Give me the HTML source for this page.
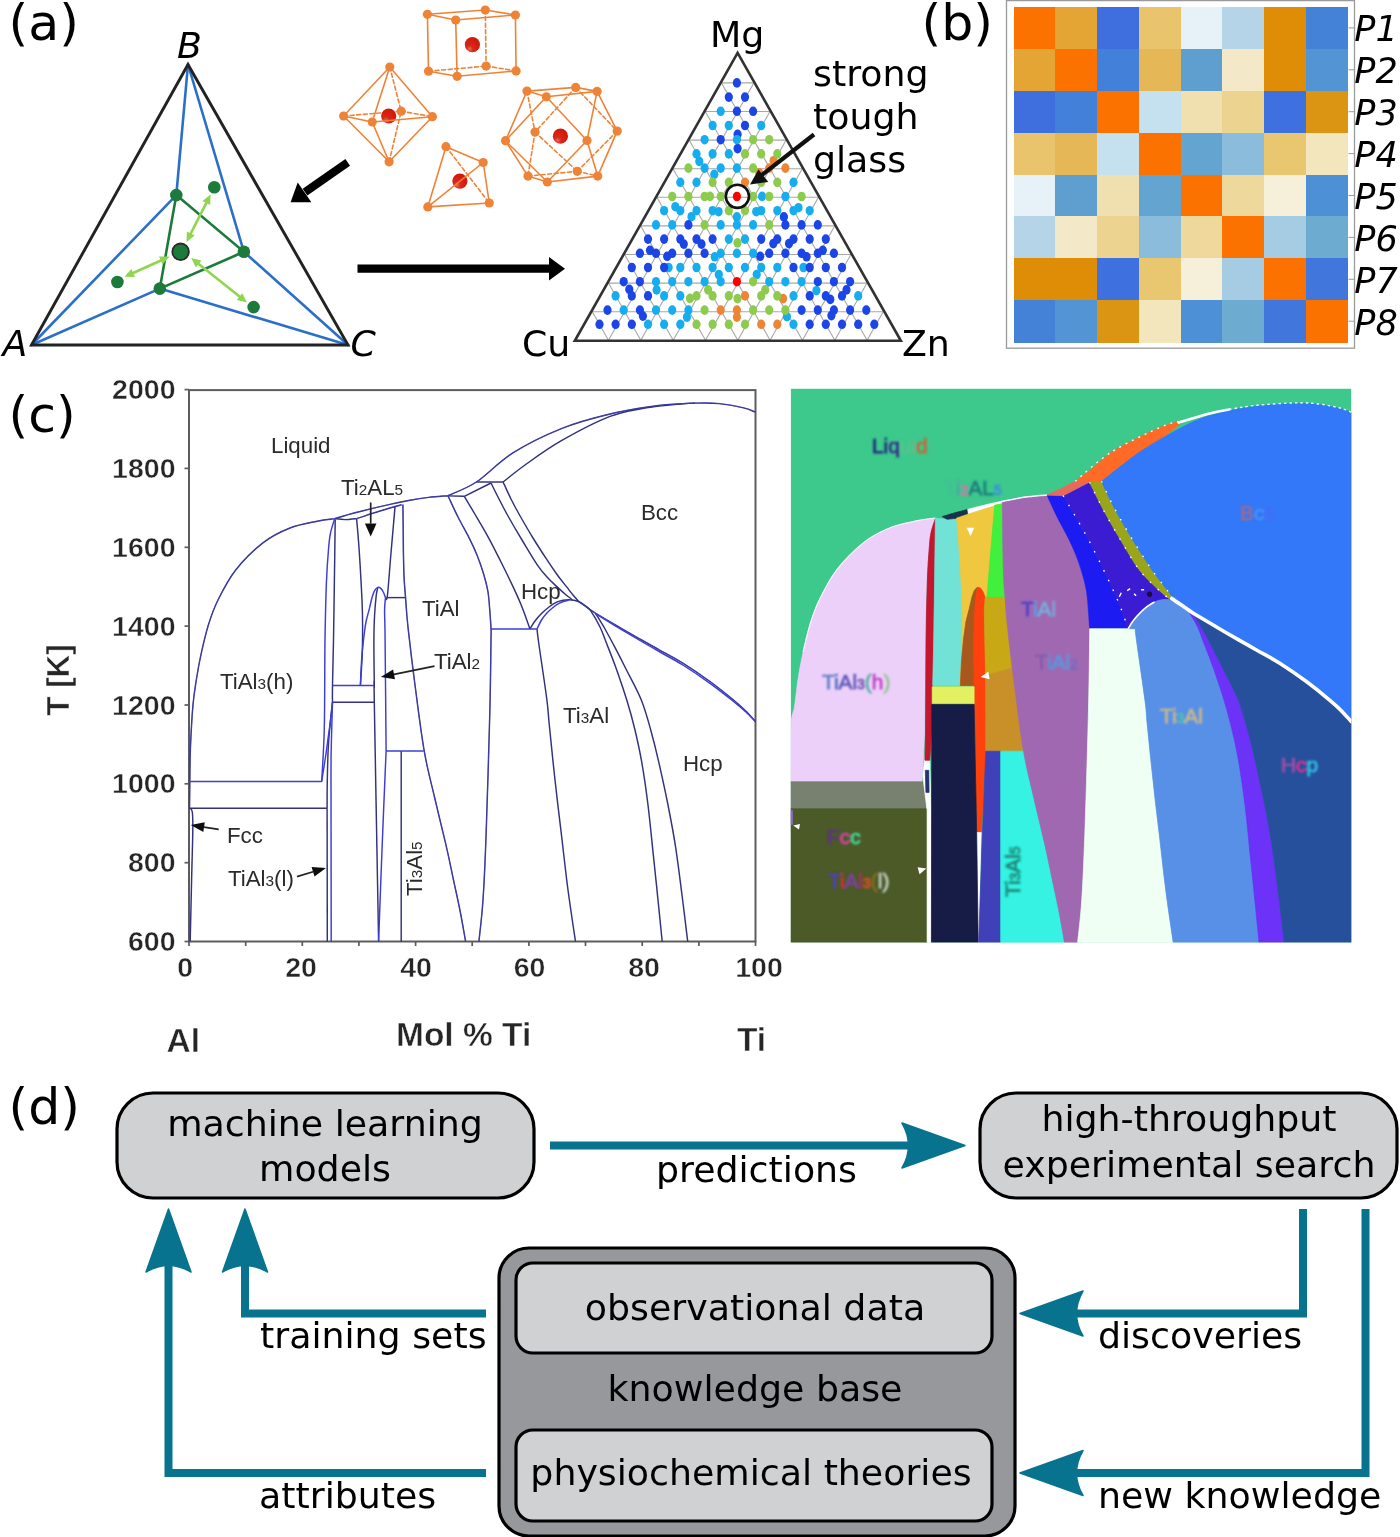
<!DOCTYPE html>
<html><head><meta charset="utf-8"><title>Figure</title>
<style>
html,body{margin:0;padding:0;background:#fff;}
svg{display:block;}
.dj{font-family:"DejaVu Sans","Liberation Sans",sans-serif;}
.lib{font-family:"Liberation Sans","DejaVu Sans",sans-serif;}
</style></head><body>
<svg width="1400" height="1537" viewBox="0 0 1400 1537">
<defs><filter id="blurc" x="-5%" y="-5%" width="110%" height="110%"><feGaussianBlur stdDeviation="0.55"/></filter><filter id="blura" x="-5%" y="-5%" width="110%" height="110%"><feGaussianBlur stdDeviation="0.5"/></filter><filter id="blurt" x="-5%" y="-5%" width="110%" height="110%"><feGaussianBlur stdDeviation="0.8"/></filter><clipPath id="clipc2"><rect x="790.7" y="388.6" width="560.7" height="553.8"/></clipPath><radialGradient id="redg" cx="0.32" cy="0.78" r="0.75"><stop offset="0" stop-color="#e8685a"/><stop offset="0.3" stop-color="#d9281a"/><stop offset="1" stop-color="#d0190a"/></radialGradient></defs>
<rect width="1400" height="1537" fill="#fff"/>
<!-- p_labels -->
<text class="dj" x="8.5" y="39.5" font-size="50.5" fill="#000">(a)</text>
<text class="dj" x="921.5" y="39.5" font-size="50.5" fill="#000">(b)</text>
<text class="dj" x="8.5" y="431.5" font-size="50.5" fill="#000">(c)</text>
<text class="dj" x="8.5" y="1123.5" font-size="50.5" fill="#000">(d)</text>

<!-- p_a -->
<g filter="url(#blura)">
<g fill="none" stroke-linecap="round" stroke-linejoin="miter">
<g stroke="#2b6fc8" stroke-width="2.6"><line x1="188" y1="64.5" x2="176.3" y2="195.1"/><line x1="188" y1="64.5" x2="243.9" y2="251.8"/><line x1="31.5" y1="345" x2="176.3" y2="195.1"/><line x1="31.5" y1="345" x2="159.8" y2="288.6"/><line x1="348" y1="345" x2="243.9" y2="251.8"/><line x1="348" y1="345" x2="159.8" y2="288.6"/></g>
<polygon points="31.5,345 188,64.5 348,345" stroke="#222" stroke-width="2.9"/>
<polygon points="176.3,195.1 243.9,251.8 159.8,288.6" stroke="#1c7a3a" stroke-width="2.6"/>
</g>
<line x1="188.3" y1="238.4" x2="208.8" y2="198.1" stroke="#8fd550" stroke-width="2.6"/><polygon points="186.5,242.0 194.7,235.5 186.9,231.5" fill="#8fd550"/><polygon points="210.6,194.5 210.2,205.0 202.4,201.0" fill="#8fd550"/>
<line x1="165.9" y1="258.2" x2="128.1" y2="275.2" stroke="#8fd550" stroke-width="2.6"/><polygon points="169.5,256.6 159.0,256.5 162.6,264.5" fill="#8fd550"/><polygon points="124.5,276.8 131.4,268.9 135.0,276.9" fill="#8fd550"/>
<line x1="194.3" y1="260.5" x2="243.9" y2="300.1" stroke="#8fd550" stroke-width="2.6"/><polygon points="191.2,258.0 195.9,267.4 201.4,260.5" fill="#8fd550"/><polygon points="247.0,302.6 236.8,300.1 242.3,293.2" fill="#8fd550"/>
<circle cx="176.3" cy="195.1" r="6.3" fill="#1c7a3a"/><circle cx="243.9" cy="251.8" r="6.3" fill="#1c7a3a"/><circle cx="159.8" cy="288.6" r="6.3" fill="#1c7a3a"/><circle cx="214.3" cy="187.2" r="6.3" fill="#1c7a3a"/><circle cx="117.4" cy="282" r="6.3" fill="#1c7a3a"/><circle cx="253.6" cy="307.1" r="6.3" fill="#1c7a3a"/><circle cx="180.6" cy="251.8" r="8.3" fill="#1c7a3a" stroke="#2a2a2a" stroke-width="1.8"/>
</g>
<g class="dj" font-size="36.3" font-style="italic" fill="#000"><text x="177" y="58">B</text><text x="2.5" y="356">A</text><text x="350.5" y="356">C</text></g>
<line x1="347.7" y1="162.4" x2="305" y2="192.2" stroke="#000" stroke-width="8.2"/><polygon points="290.6,202.2 297.7,182.6 311.4,202.3" fill="#000"/>
<line x1="357.5" y1="268.7" x2="551" y2="268.7" stroke="#000" stroke-width="8.2"/><polygon points="565,268.7 549,257 549,280.4" fill="#000"/>
<g filter="url(#blura)">
<g stroke="#ee8338" stroke-width="1.6" fill="none" stroke-linecap="round"><line x1="485.3" y1="10.0" x2="486.1" y2="66.1" stroke-dasharray="4 2.6"/><line x1="428.5" y1="71.2" x2="486.1" y2="66.1" stroke-dasharray="4 2.6"/><line x1="486.1" y1="66.1" x2="516.1" y2="70.9" stroke-dasharray="4 2.6"/></g><circle cx="472.4" cy="44.7" r="7.6" fill="url(#redg)"/><g stroke="#ee8338" stroke-width="1.6" fill="none" stroke-linecap="round"><line x1="427.4" y1="14.3" x2="485.3" y2="10.0"/><line x1="485.3" y1="10.0" x2="515.4" y2="15.0"/><line x1="515.4" y1="15.0" x2="455.7" y2="20.0"/><line x1="455.7" y1="20.0" x2="427.4" y2="14.3"/><line x1="427.4" y1="14.3" x2="428.5" y2="71.2"/><line x1="455.7" y1="20.0" x2="457.1" y2="76.3"/><line x1="515.4" y1="15.0" x2="516.1" y2="70.9"/><line x1="428.5" y1="71.2" x2="457.1" y2="76.3"/><line x1="457.1" y1="76.3" x2="516.1" y2="70.9"/></g><g fill="#ee8338"><circle cx="427.4" cy="14.3" r="4.6"/><circle cx="485.3" cy="10.0" r="4.6"/><circle cx="515.4" cy="15.0" r="4.6"/><circle cx="455.7" cy="20.0" r="4.6"/><circle cx="428.5" cy="71.2" r="4.6"/><circle cx="486.1" cy="66.1" r="4.6"/><circle cx="516.1" cy="70.9" r="4.6"/><circle cx="457.1" cy="76.3" r="4.6"/></g>
<g stroke="#ee8338" stroke-width="1.6" fill="none" stroke-linecap="round"><line x1="389.8" y1="67.0" x2="401.2" y2="111.2" stroke-dasharray="4 2.6"/><line x1="389.1" y1="161.8" x2="401.2" y2="111.2" stroke-dasharray="4 2.6"/><line x1="343.6" y1="116.0" x2="401.2" y2="111.2" stroke-dasharray="4 2.6"/><line x1="401.2" y1="111.2" x2="432.4" y2="116.7" stroke-dasharray="4 2.6"/></g><circle cx="388.7" cy="116.0" r="7.6" fill="url(#redg)"/><g stroke="#ee8338" stroke-width="1.6" fill="none" stroke-linecap="round"><line x1="389.8" y1="67.0" x2="343.6" y2="116.0"/><line x1="389.8" y1="67.0" x2="432.4" y2="116.7"/><line x1="389.8" y1="67.0" x2="372.2" y2="122.0"/><line x1="389.1" y1="161.8" x2="343.6" y2="116.0"/><line x1="389.1" y1="161.8" x2="432.4" y2="116.7"/><line x1="389.1" y1="161.8" x2="372.2" y2="122.0"/><line x1="343.6" y1="116.0" x2="372.2" y2="122.0"/><line x1="372.2" y1="122.0" x2="432.4" y2="116.7"/></g><g fill="#ee8338"><circle cx="389.8" cy="67.0" r="4.6"/><circle cx="389.1" cy="161.8" r="4.6"/><circle cx="343.6" cy="116.0" r="4.6"/><circle cx="432.4" cy="116.7" r="4.6"/><circle cx="372.2" cy="122.0" r="4.6"/><circle cx="401.2" cy="111.2" r="4.6"/></g>
<g stroke="#ee8338" stroke-width="1.6" fill="none" stroke-linecap="round"><line x1="446.0" y1="146.7" x2="489.3" y2="203.0" stroke-dasharray="4 2.6"/></g><circle cx="459.9" cy="181.1" r="7.6" fill="url(#redg)"/><g stroke="#ee8338" stroke-width="1.6" fill="none" stroke-linecap="round"><line x1="446.0" y1="146.7" x2="427.8" y2="206.9"/><line x1="446.0" y1="146.7" x2="483.2" y2="162.5"/><line x1="483.2" y1="162.5" x2="489.3" y2="203.0"/><line x1="427.8" y1="206.9" x2="489.3" y2="203.0"/><line x1="427.8" y1="206.9" x2="483.2" y2="162.5"/></g><g fill="#ee8338"><circle cx="446.0" cy="146.7" r="4.6"/><circle cx="483.2" cy="162.5" r="4.6"/><circle cx="427.8" cy="206.9" r="4.6"/><circle cx="489.3" cy="203.0" r="4.6"/></g>
<g stroke="#ee8338" stroke-width="1.6" fill="none" stroke-linecap="round"><line x1="527.0" y1="91.1" x2="535.0" y2="132.1" stroke-dasharray="4 2.6"/><line x1="575.7" y1="87.4" x2="535.0" y2="132.1" stroke-dasharray="4 2.6"/><line x1="535.0" y1="132.1" x2="528.0" y2="176.1" stroke-dasharray="4 2.6"/><line x1="535.0" y1="132.1" x2="577.3" y2="171.3" stroke-dasharray="4 2.6"/><line x1="575.7" y1="87.4" x2="617.2" y2="131.1" stroke-dasharray="4 2.6"/><line x1="617.2" y1="131.1" x2="577.3" y2="171.3" stroke-dasharray="4 2.6"/><line x1="528.0" y1="176.1" x2="577.3" y2="171.3" stroke-dasharray="4 2.6"/><line x1="577.3" y1="171.3" x2="597.7" y2="176.1" stroke-dasharray="4 2.6"/></g><circle cx="560.4" cy="136.2" r="7.6" fill="url(#redg)"/><g stroke="#ee8338" stroke-width="1.6" fill="none" stroke-linecap="round"><line x1="527.0" y1="91.1" x2="575.7" y2="87.4"/><line x1="575.7" y1="87.4" x2="597.1" y2="91.4"/><line x1="597.1" y1="91.4" x2="546.3" y2="96.8"/><line x1="546.3" y1="96.8" x2="527.0" y2="91.1"/><line x1="527.0" y1="91.1" x2="505.5" y2="140.7"/><line x1="546.3" y1="96.8" x2="505.5" y2="140.7"/><line x1="505.5" y1="140.7" x2="528.0" y2="176.1"/><line x1="505.5" y1="140.7" x2="547.3" y2="182.0"/><line x1="546.3" y1="96.8" x2="587.0" y2="140.5"/><line x1="597.1" y1="91.4" x2="587.0" y2="140.5"/><line x1="587.0" y1="140.5" x2="547.3" y2="182.0"/><line x1="587.0" y1="140.5" x2="597.7" y2="176.1"/><line x1="597.1" y1="91.4" x2="617.2" y2="131.1"/><line x1="617.2" y1="131.1" x2="597.7" y2="176.1"/><line x1="528.0" y1="176.1" x2="547.3" y2="182.0"/><line x1="547.3" y1="182.0" x2="597.7" y2="176.1"/></g><g fill="#ee8338"><circle cx="527.0" cy="91.1" r="4.6"/><circle cx="546.3" cy="96.8" r="4.6"/><circle cx="575.7" cy="87.4" r="4.6"/><circle cx="597.1" cy="91.4" r="4.6"/><circle cx="505.5" cy="140.7" r="4.6"/><circle cx="617.2" cy="131.1" r="4.6"/><circle cx="535.0" cy="132.1" r="4.6"/><circle cx="587.0" cy="140.5" r="4.6"/><circle cx="528.0" cy="176.1" r="4.6"/><circle cx="547.3" cy="182.0" r="4.6"/><circle cx="577.3" cy="171.3" r="4.6"/><circle cx="597.7" cy="176.1" r="4.6"/></g>
</g>

<!-- p_tern -->
<g filter="url(#blura)">
<g stroke="#a8a8a8" stroke-width="1.1" fill="none">
<line x1="592.3" y1="311.7" x2="883.2" y2="311.7"/><line x1="721.5" y1="82.9" x2="867.1" y2="340.3"/><line x1="753.8" y1="82.9" x2="608.5" y2="340.3"/><line x1="608.5" y1="283.1" x2="867.0" y2="283.1"/><line x1="705.3" y1="111.5" x2="834.8" y2="340.3"/><line x1="770.0" y1="111.5" x2="640.8" y2="340.3"/><line x1="624.6" y1="254.5" x2="850.9" y2="254.5"/><line x1="689.2" y1="140.1" x2="802.4" y2="340.3"/><line x1="786.1" y1="140.1" x2="673.2" y2="340.3"/><line x1="640.8" y1="225.9" x2="834.7" y2="225.9"/><line x1="673.0" y1="168.7" x2="770.1" y2="340.3"/><line x1="802.3" y1="168.7" x2="705.5" y2="340.3"/><line x1="656.9" y1="197.3" x2="818.5" y2="197.3"/><line x1="656.9" y1="197.3" x2="737.8" y2="340.3"/><line x1="818.5" y1="197.3" x2="737.8" y2="340.3"/><line x1="673.0" y1="168.7" x2="802.3" y2="168.7"/><line x1="640.8" y1="225.9" x2="705.5" y2="340.3"/><line x1="834.7" y1="225.9" x2="770.1" y2="340.3"/><line x1="689.2" y1="140.1" x2="786.1" y2="140.1"/><line x1="624.6" y1="254.5" x2="673.2" y2="340.3"/><line x1="850.9" y1="254.5" x2="802.4" y2="340.3"/><line x1="705.3" y1="111.5" x2="770.0" y2="111.5"/><line x1="608.5" y1="283.1" x2="640.8" y2="340.3"/><line x1="867.0" y1="283.1" x2="834.8" y2="340.3"/><line x1="721.5" y1="82.9" x2="753.8" y2="82.9"/><line x1="592.3" y1="311.7" x2="608.5" y2="340.3"/><line x1="883.2" y1="311.7" x2="867.1" y2="340.3"/></g>
<ellipse cx="675.3" cy="206.7" rx="4.1" ry="4.8" fill="#17adee"/><ellipse cx="691.5" cy="216.7" rx="4.1" ry="4.8" fill="#17adee"/><ellipse cx="718.6" cy="211.7" rx="4.1" ry="4.8" fill="#17adee"/><ellipse cx="756.2" cy="211.7" rx="4.1" ry="4.8" fill="#17adee"/><ellipse cx="798.5" cy="207.7" rx="4.1" ry="4.8" fill="#17adee"/><ellipse cx="736.9" cy="216.9" rx="4.1" ry="4.8" fill="#17adee"/><ellipse cx="783.9" cy="216.9" rx="4.1" ry="4.8" fill="#1a44e6"/><ellipse cx="683.8" cy="244.1" rx="4.1" ry="4.8" fill="#1a44e6"/><ellipse cx="701.5" cy="244.1" rx="4.1" ry="4.8" fill="#1a44e6"/><ellipse cx="773.3" cy="243.6" rx="4.1" ry="4.8" fill="#1a44e6"/><ellipse cx="789.0" cy="243.6" rx="4.1" ry="4.8" fill="#1a44e6"/><ellipse cx="737.5" cy="242.9" rx="4.1" ry="4.8" fill="#8ccb4e"/><ellipse cx="650.0" cy="250.3" rx="4.1" ry="4.8" fill="#1a44e6"/><ellipse cx="667.2" cy="256.3" rx="4.1" ry="4.8" fill="#1a44e6"/><ellipse cx="714.7" cy="256.8" rx="4.1" ry="4.8" fill="#17adee"/><ellipse cx="760.2" cy="256.3" rx="4.1" ry="4.8" fill="#1a44e6"/><ellipse cx="806.6" cy="256.8" rx="4.1" ry="4.8" fill="#1a44e6"/><ellipse cx="822.8" cy="250.3" rx="4.1" ry="4.8" fill="#1a44e6"/><ellipse cx="668.6" cy="267.5" rx="4.1" ry="4.8" fill="#17adee"/><ellipse cx="718.8" cy="274.5" rx="4.1" ry="4.8" fill="#17adee"/><ellipse cx="756.7" cy="274.5" rx="4.1" ry="4.8" fill="#17adee"/><ellipse cx="803.5" cy="267.5" rx="4.1" ry="4.8" fill="#17adee"/><ellipse cx="629.3" cy="289.4" rx="4.1" ry="4.8" fill="#1a44e6"/><ellipse cx="656.6" cy="289.9" rx="4.1" ry="4.8" fill="#17adee"/><ellipse cx="690.0" cy="298.4" rx="4.1" ry="4.8" fill="#8ccb4e"/><ellipse cx="708.1" cy="289.9" rx="4.1" ry="4.8" fill="#8ccb4e"/><ellipse cx="765.2" cy="289.9" rx="4.1" ry="4.8" fill="#8ccb4e"/><ellipse cx="830.3" cy="299.4" rx="4.1" ry="4.8" fill="#1a44e6"/><ellipse cx="846.5" cy="289.9" rx="4.1" ry="4.8" fill="#1a44e6"/><ellipse cx="737.5" cy="298.6" rx="4.1" ry="4.8" fill="#8ccb4e"/><ellipse cx="783.1" cy="298.6" rx="4.1" ry="4.8" fill="#ee8535"/><ellipse cx="816.4" cy="290.7" rx="4.1" ry="4.8" fill="#17adee"/><ellipse cx="642.9" cy="316.1" rx="4.1" ry="4.8" fill="#1a44e6"/><ellipse cx="686.9" cy="317.1" rx="4.1" ry="4.8" fill="#17adee"/><ellipse cx="736.9" cy="317.1" rx="4.1" ry="4.8" fill="#ee8535"/><ellipse cx="786.9" cy="316.6" rx="4.1" ry="4.8" fill="#17adee"/><ellipse cx="831.4" cy="315.6" rx="4.1" ry="4.8" fill="#1a44e6"/><ellipse cx="737.6" cy="134.3" rx="4.1" ry="4.8" fill="#1a44e6"/><ellipse cx="737.6" cy="148.6" rx="4.1" ry="4.8" fill="#1a44e6"/><ellipse cx="699.3" cy="161.4" rx="4.1" ry="4.8" fill="#17adee"/><ellipse cx="773.6" cy="160.7" rx="4.1" ry="4.8" fill="#ee8535"/><ellipse cx="714.3" cy="174.3" rx="4.1" ry="4.8" fill="#17adee"/><ellipse cx="759.3" cy="172.9" rx="4.1" ry="4.8" fill="#ee8535"/><ellipse cx="710.0" cy="196.4" rx="4.1" ry="4.8" fill="#8ccb4e"/><ellipse cx="762.1" cy="196.4" rx="4.1" ry="4.8" fill="#17adee"/><ellipse cx="736.9" cy="82.9" rx="4.1" ry="4.8" fill="#1a44e6"/><ellipse cx="728.8" cy="97.1" rx="4.1" ry="4.8" fill="#1a44e6"/><ellipse cx="745.0" cy="97.1" rx="4.1" ry="4.8" fill="#1a44e6"/><ellipse cx="720.7" cy="111.3" rx="4.1" ry="4.8" fill="#17adee"/><ellipse cx="736.9" cy="111.3" rx="4.1" ry="4.8" fill="#1a44e6"/><ellipse cx="753.1" cy="111.3" rx="4.1" ry="4.8" fill="#1a44e6"/><ellipse cx="712.6" cy="125.5" rx="4.1" ry="4.8" fill="#17adee"/><ellipse cx="728.8" cy="125.5" rx="4.1" ry="4.8" fill="#17adee"/><ellipse cx="745.0" cy="125.5" rx="4.1" ry="4.8" fill="#1a44e6"/><ellipse cx="761.2" cy="125.5" rx="4.1" ry="4.8" fill="#17adee"/><ellipse cx="704.6" cy="139.7" rx="4.1" ry="4.8" fill="#17adee"/><ellipse cx="720.7" cy="139.7" rx="4.1" ry="4.8" fill="#1a44e6"/><ellipse cx="736.9" cy="139.7" rx="4.1" ry="4.8" fill="#17adee"/><ellipse cx="753.1" cy="139.7" rx="4.1" ry="4.8" fill="#8ccb4e"/><ellipse cx="769.2" cy="139.7" rx="4.1" ry="4.8" fill="#8ccb4e"/><ellipse cx="696.5" cy="153.9" rx="4.1" ry="4.8" fill="#17adee"/><ellipse cx="712.6" cy="153.9" rx="4.1" ry="4.8" fill="#17adee"/><ellipse cx="728.8" cy="153.9" rx="4.1" ry="4.8" fill="#17adee"/><ellipse cx="745.0" cy="153.9" rx="4.1" ry="4.8" fill="#8ccb4e"/><ellipse cx="761.2" cy="153.9" rx="4.1" ry="4.8" fill="#8ccb4e"/><ellipse cx="777.3" cy="153.9" rx="4.1" ry="4.8" fill="#8ccb4e"/><ellipse cx="688.4" cy="168.1" rx="4.1" ry="4.8" fill="#8ccb4e"/><ellipse cx="704.6" cy="168.1" rx="4.1" ry="4.8" fill="#17adee"/><ellipse cx="720.7" cy="168.1" rx="4.1" ry="4.8" fill="#17adee"/><ellipse cx="736.9" cy="168.1" rx="4.1" ry="4.8" fill="#17adee"/><ellipse cx="753.1" cy="168.1" rx="4.1" ry="4.8" fill="#8ccb4e"/><ellipse cx="769.2" cy="168.1" rx="4.1" ry="4.8" fill="#ee8535"/><ellipse cx="785.4" cy="168.1" rx="4.1" ry="4.8" fill="#ee8535"/><ellipse cx="680.3" cy="182.3" rx="4.1" ry="4.8" fill="#17adee"/><ellipse cx="696.5" cy="182.3" rx="4.1" ry="4.8" fill="#17adee"/><ellipse cx="712.6" cy="182.3" rx="4.1" ry="4.8" fill="#8ccb4e"/><ellipse cx="728.8" cy="182.3" rx="4.1" ry="4.8" fill="#8ccb4e"/><ellipse cx="745.0" cy="182.3" rx="4.1" ry="4.8" fill="#ee8535"/><ellipse cx="761.2" cy="182.3" rx="4.1" ry="4.8" fill="#8ccb4e"/><ellipse cx="777.3" cy="182.3" rx="4.1" ry="4.8" fill="#8ccb4e"/><ellipse cx="793.5" cy="182.3" rx="4.1" ry="4.8" fill="#17adee"/><ellipse cx="672.2" cy="196.5" rx="4.1" ry="4.8" fill="#8ccb4e"/><ellipse cx="688.4" cy="196.5" rx="4.1" ry="4.8" fill="#8ccb4e"/><ellipse cx="704.6" cy="196.5" rx="4.1" ry="4.8" fill="#8ccb4e"/><ellipse cx="720.7" cy="196.5" rx="4.1" ry="4.8" fill="#8ccb4e"/><ellipse cx="736.9" cy="196.5" rx="4.1" ry="4.8" fill="#ff0000"/><ellipse cx="753.1" cy="196.5" rx="4.1" ry="4.8" fill="#8ccb4e"/><ellipse cx="769.2" cy="196.5" rx="4.1" ry="4.8" fill="#8ccb4e"/><ellipse cx="785.4" cy="196.5" rx="4.1" ry="4.8" fill="#17adee"/><ellipse cx="801.6" cy="196.5" rx="4.1" ry="4.8" fill="#8ccb4e"/><ellipse cx="664.1" cy="210.7" rx="4.1" ry="4.8" fill="#17adee"/><ellipse cx="680.3" cy="210.7" rx="4.1" ry="4.8" fill="#17adee"/><ellipse cx="696.5" cy="210.7" rx="4.1" ry="4.8" fill="#17adee"/><ellipse cx="712.6" cy="210.7" rx="4.1" ry="4.8" fill="#17adee"/><ellipse cx="728.8" cy="210.7" rx="4.1" ry="4.8" fill="#8ccb4e"/><ellipse cx="745.0" cy="210.7" rx="4.1" ry="4.8" fill="#8ccb4e"/><ellipse cx="761.2" cy="210.7" rx="4.1" ry="4.8" fill="#17adee"/><ellipse cx="777.3" cy="210.7" rx="4.1" ry="4.8" fill="#17adee"/><ellipse cx="793.5" cy="210.7" rx="4.1" ry="4.8" fill="#17adee"/><ellipse cx="809.7" cy="210.7" rx="4.1" ry="4.8" fill="#17adee"/><ellipse cx="656.0" cy="224.9" rx="4.1" ry="4.8" fill="#17adee"/><ellipse cx="672.2" cy="224.9" rx="4.1" ry="4.8" fill="#17adee"/><ellipse cx="688.4" cy="224.9" rx="4.1" ry="4.8" fill="#1a44e6"/><ellipse cx="704.6" cy="224.9" rx="4.1" ry="4.8" fill="#8ccb4e"/><ellipse cx="720.7" cy="224.9" rx="4.1" ry="4.8" fill="#17adee"/><ellipse cx="736.9" cy="224.9" rx="4.1" ry="4.8" fill="#17adee"/><ellipse cx="753.1" cy="224.9" rx="4.1" ry="4.8" fill="#17adee"/><ellipse cx="769.2" cy="224.9" rx="4.1" ry="4.8" fill="#8ccb4e"/><ellipse cx="785.4" cy="224.9" rx="4.1" ry="4.8" fill="#1a44e6"/><ellipse cx="801.6" cy="224.9" rx="4.1" ry="4.8" fill="#1a44e6"/><ellipse cx="817.8" cy="224.9" rx="4.1" ry="4.8" fill="#1a44e6"/><ellipse cx="648.0" cy="239.1" rx="4.1" ry="4.8" fill="#1a44e6"/><ellipse cx="664.1" cy="239.1" rx="4.1" ry="4.8" fill="#1a44e6"/><ellipse cx="680.3" cy="239.1" rx="4.1" ry="4.8" fill="#1a44e6"/><ellipse cx="696.5" cy="239.1" rx="4.1" ry="4.8" fill="#1a44e6"/><ellipse cx="712.6" cy="239.1" rx="4.1" ry="4.8" fill="#1a44e6"/><ellipse cx="728.8" cy="239.1" rx="4.1" ry="4.8" fill="#17adee"/><ellipse cx="745.0" cy="239.1" rx="4.1" ry="4.8" fill="#17adee"/><ellipse cx="761.2" cy="239.1" rx="4.1" ry="4.8" fill="#1a44e6"/><ellipse cx="777.3" cy="239.1" rx="4.1" ry="4.8" fill="#1a44e6"/><ellipse cx="793.5" cy="239.1" rx="4.1" ry="4.8" fill="#1a44e6"/><ellipse cx="809.7" cy="239.1" rx="4.1" ry="4.8" fill="#1a44e6"/><ellipse cx="825.8" cy="239.1" rx="4.1" ry="4.8" fill="#1a44e6"/><ellipse cx="639.9" cy="253.3" rx="4.1" ry="4.8" fill="#1a44e6"/><ellipse cx="656.0" cy="253.3" rx="4.1" ry="4.8" fill="#1a44e6"/><ellipse cx="672.2" cy="253.3" rx="4.1" ry="4.8" fill="#1a44e6"/><ellipse cx="688.4" cy="253.3" rx="4.1" ry="4.8" fill="#1a44e6"/><ellipse cx="704.6" cy="253.3" rx="4.1" ry="4.8" fill="#1a44e6"/><ellipse cx="720.7" cy="253.3" rx="4.1" ry="4.8" fill="#17adee"/><ellipse cx="736.9" cy="253.3" rx="4.1" ry="4.8" fill="#17adee"/><ellipse cx="753.1" cy="253.3" rx="4.1" ry="4.8" fill="#17adee"/><ellipse cx="769.2" cy="253.3" rx="4.1" ry="4.8" fill="#1a44e6"/><ellipse cx="785.4" cy="253.3" rx="4.1" ry="4.8" fill="#1a44e6"/><ellipse cx="801.6" cy="253.3" rx="4.1" ry="4.8" fill="#1a44e6"/><ellipse cx="817.8" cy="253.3" rx="4.1" ry="4.8" fill="#1a44e6"/><ellipse cx="833.9" cy="253.3" rx="4.1" ry="4.8" fill="#1a44e6"/><ellipse cx="631.8" cy="267.5" rx="4.1" ry="4.8" fill="#1a44e6"/><ellipse cx="648.0" cy="267.5" rx="4.1" ry="4.8" fill="#1a44e6"/><ellipse cx="664.1" cy="267.5" rx="4.1" ry="4.8" fill="#1a44e6"/><ellipse cx="680.3" cy="267.5" rx="4.1" ry="4.8" fill="#17adee"/><ellipse cx="696.5" cy="267.5" rx="4.1" ry="4.8" fill="#17adee"/><ellipse cx="712.6" cy="267.5" rx="4.1" ry="4.8" fill="#17adee"/><ellipse cx="728.8" cy="267.5" rx="4.1" ry="4.8" fill="#17adee"/><ellipse cx="745.0" cy="267.5" rx="4.1" ry="4.8" fill="#17adee"/><ellipse cx="761.2" cy="267.5" rx="4.1" ry="4.8" fill="#17adee"/><ellipse cx="777.3" cy="267.5" rx="4.1" ry="4.8" fill="#17adee"/><ellipse cx="793.5" cy="267.5" rx="4.1" ry="4.8" fill="#1a44e6"/><ellipse cx="809.7" cy="267.5" rx="4.1" ry="4.8" fill="#1a44e6"/><ellipse cx="825.8" cy="267.5" rx="4.1" ry="4.8" fill="#1a44e6"/><ellipse cx="842.0" cy="267.5" rx="4.1" ry="4.8" fill="#1a44e6"/><ellipse cx="623.7" cy="281.7" rx="4.1" ry="4.8" fill="#1a44e6"/><ellipse cx="639.9" cy="281.7" rx="4.1" ry="4.8" fill="#1a44e6"/><ellipse cx="656.0" cy="281.7" rx="4.1" ry="4.8" fill="#17adee"/><ellipse cx="672.2" cy="281.7" rx="4.1" ry="4.8" fill="#17adee"/><ellipse cx="688.4" cy="281.7" rx="4.1" ry="4.8" fill="#17adee"/><ellipse cx="704.6" cy="281.7" rx="4.1" ry="4.8" fill="#17adee"/><ellipse cx="720.7" cy="281.7" rx="4.1" ry="4.8" fill="#17adee"/><ellipse cx="736.9" cy="281.7" rx="4.1" ry="4.8" fill="#ff0000"/><ellipse cx="753.1" cy="281.7" rx="4.1" ry="4.8" fill="#8ccb4e"/><ellipse cx="769.2" cy="281.7" rx="4.1" ry="4.8" fill="#17adee"/><ellipse cx="785.4" cy="281.7" rx="4.1" ry="4.8" fill="#17adee"/><ellipse cx="801.6" cy="281.7" rx="4.1" ry="4.8" fill="#17adee"/><ellipse cx="817.8" cy="281.7" rx="4.1" ry="4.8" fill="#1a44e6"/><ellipse cx="833.9" cy="281.7" rx="4.1" ry="4.8" fill="#1a44e6"/><ellipse cx="850.1" cy="281.7" rx="4.1" ry="4.8" fill="#1a44e6"/><ellipse cx="615.6" cy="295.9" rx="4.1" ry="4.8" fill="#17adee"/><ellipse cx="631.8" cy="295.9" rx="4.1" ry="4.8" fill="#1a44e6"/><ellipse cx="648.0" cy="295.9" rx="4.1" ry="4.8" fill="#1a44e6"/><ellipse cx="664.1" cy="295.9" rx="4.1" ry="4.8" fill="#17adee"/><ellipse cx="680.3" cy="295.9" rx="4.1" ry="4.8" fill="#17adee"/><ellipse cx="696.5" cy="295.9" rx="4.1" ry="4.8" fill="#8ccb4e"/><ellipse cx="712.6" cy="295.9" rx="4.1" ry="4.8" fill="#8ccb4e"/><ellipse cx="728.8" cy="295.9" rx="4.1" ry="4.8" fill="#8ccb4e"/><ellipse cx="745.0" cy="295.9" rx="4.1" ry="4.8" fill="#ee8535"/><ellipse cx="761.2" cy="295.9" rx="4.1" ry="4.8" fill="#8ccb4e"/><ellipse cx="777.3" cy="295.9" rx="4.1" ry="4.8" fill="#8ccb4e"/><ellipse cx="793.5" cy="295.9" rx="4.1" ry="4.8" fill="#17adee"/><ellipse cx="809.7" cy="295.9" rx="4.1" ry="4.8" fill="#1a44e6"/><ellipse cx="825.8" cy="295.9" rx="4.1" ry="4.8" fill="#1a44e6"/><ellipse cx="842.0" cy="295.9" rx="4.1" ry="4.8" fill="#1a44e6"/><ellipse cx="858.2" cy="295.9" rx="4.1" ry="4.8" fill="#17adee"/><ellipse cx="607.5" cy="310.1" rx="4.1" ry="4.8" fill="#1a44e6"/><ellipse cx="623.7" cy="310.1" rx="4.1" ry="4.8" fill="#17adee"/><ellipse cx="639.9" cy="310.1" rx="4.1" ry="4.8" fill="#1a44e6"/><ellipse cx="656.0" cy="310.1" rx="4.1" ry="4.8" fill="#17adee"/><ellipse cx="672.2" cy="310.1" rx="4.1" ry="4.8" fill="#17adee"/><ellipse cx="688.4" cy="310.1" rx="4.1" ry="4.8" fill="#17adee"/><ellipse cx="704.6" cy="310.1" rx="4.1" ry="4.8" fill="#8ccb4e"/><ellipse cx="720.7" cy="310.1" rx="4.1" ry="4.8" fill="#ee8535"/><ellipse cx="736.9" cy="310.1" rx="4.1" ry="4.8" fill="#ee8535"/><ellipse cx="753.1" cy="310.1" rx="4.1" ry="4.8" fill="#8ccb4e"/><ellipse cx="769.2" cy="310.1" rx="4.1" ry="4.8" fill="#8ccb4e"/><ellipse cx="785.4" cy="310.1" rx="4.1" ry="4.8" fill="#8ccb4e"/><ellipse cx="801.6" cy="310.1" rx="4.1" ry="4.8" fill="#1a44e6"/><ellipse cx="817.8" cy="310.1" rx="4.1" ry="4.8" fill="#1a44e6"/><ellipse cx="833.9" cy="310.1" rx="4.1" ry="4.8" fill="#1a44e6"/><ellipse cx="850.1" cy="310.1" rx="4.1" ry="4.8" fill="#1a44e6"/><ellipse cx="866.3" cy="310.1" rx="4.1" ry="4.8" fill="#1a44e6"/><ellipse cx="599.5" cy="324.3" rx="4.1" ry="4.8" fill="#1a44e6"/><ellipse cx="615.6" cy="324.3" rx="4.1" ry="4.8" fill="#1a44e6"/><ellipse cx="631.8" cy="324.3" rx="4.1" ry="4.8" fill="#1a44e6"/><ellipse cx="648.0" cy="324.3" rx="4.1" ry="4.8" fill="#17adee"/><ellipse cx="664.1" cy="324.3" rx="4.1" ry="4.8" fill="#17adee"/><ellipse cx="680.3" cy="324.3" rx="4.1" ry="4.8" fill="#17adee"/><ellipse cx="696.5" cy="324.3" rx="4.1" ry="4.8" fill="#8ccb4e"/><ellipse cx="712.6" cy="324.3" rx="4.1" ry="4.8" fill="#8ccb4e"/><ellipse cx="728.8" cy="324.3" rx="4.1" ry="4.8" fill="#8ccb4e"/><ellipse cx="745.0" cy="324.3" rx="4.1" ry="4.8" fill="#8ccb4e"/><ellipse cx="761.2" cy="324.3" rx="4.1" ry="4.8" fill="#ee8535"/><ellipse cx="777.3" cy="324.3" rx="4.1" ry="4.8" fill="#ee8535"/><ellipse cx="793.5" cy="324.3" rx="4.1" ry="4.8" fill="#17adee"/><ellipse cx="809.7" cy="324.3" rx="4.1" ry="4.8" fill="#1a44e6"/><ellipse cx="825.8" cy="324.3" rx="4.1" ry="4.8" fill="#1a44e6"/><ellipse cx="842.0" cy="324.3" rx="4.1" ry="4.8" fill="#1a44e6"/><ellipse cx="858.2" cy="324.3" rx="4.1" ry="4.8" fill="#1a44e6"/><ellipse cx="874.3" cy="324.3" rx="4.1" ry="4.8" fill="#1a44e6"/>
<polygon points="737.6,52.9 574.8,340.8 900.9,340.8" fill="none" stroke="#333" stroke-width="2.6" stroke-linejoin="miter"/>
</g>
<circle cx="737.4" cy="196.3" r="11.6" fill="none" stroke="#111" stroke-width="2.6"/>
<line x1="814" y1="134.5" x2="760" y2="176.5" stroke="#111" stroke-width="4.2"/><polygon points="750,184.5 758.5,169.5 768.3,182" fill="#111"/>
<g class="dj" font-size="36.3" fill="#000"><text x="710" y="46.5">Mg</text><text x="522" y="356">Cu</text><text x="902" y="356">Zn</text><text x="813" y="85.5">strong</text><text x="813" y="128.5">tough</text><text x="813" y="171.5">glass</text></g>

<!-- p_b -->
<rect x="1006.5" y="0.6" width="348" height="347.6" fill="#fff" stroke="#9a9a9a" stroke-width="1.3"/>
<g shape-rendering="crispEdges">
<rect x="1013.70" y="6.90" width="42.22" height="42.41" fill="#fb7201"/>
<rect x="1055.42" y="6.90" width="42.22" height="42.41" fill="#e4a535"/>
<rect x="1097.15" y="6.90" width="42.22" height="42.41" fill="#3f6fdf"/>
<rect x="1138.88" y="6.90" width="42.22" height="42.41" fill="#e9c46d"/>
<rect x="1180.60" y="6.90" width="42.22" height="42.41" fill="#e6f1f8"/>
<rect x="1222.33" y="6.90" width="42.22" height="42.41" fill="#b5d4e8"/>
<rect x="1264.05" y="6.90" width="42.22" height="42.41" fill="#df8c07"/>
<rect x="1305.78" y="6.90" width="42.22" height="42.41" fill="#4482d8"/>
<rect x="1013.70" y="48.81" width="42.22" height="42.41" fill="#e4a535"/>
<rect x="1055.42" y="48.81" width="42.22" height="42.41" fill="#fb7201"/>
<rect x="1097.15" y="48.81" width="42.22" height="42.41" fill="#4280d9"/>
<rect x="1138.88" y="48.81" width="42.22" height="42.41" fill="#e6b757"/>
<rect x="1180.60" y="48.81" width="42.22" height="42.41" fill="#5e9fd0"/>
<rect x="1222.33" y="48.81" width="42.22" height="42.41" fill="#f3e9c8"/>
<rect x="1264.05" y="48.81" width="42.22" height="42.41" fill="#df8c07"/>
<rect x="1305.78" y="48.81" width="42.22" height="42.41" fill="#5294d4"/>
<rect x="1013.70" y="90.73" width="42.22" height="42.41" fill="#3f6fdf"/>
<rect x="1055.42" y="90.73" width="42.22" height="42.41" fill="#4280d9"/>
<rect x="1097.15" y="90.73" width="42.22" height="42.41" fill="#fb7201"/>
<rect x="1138.88" y="90.73" width="42.22" height="42.41" fill="#c5e0ee"/>
<rect x="1180.60" y="90.73" width="42.22" height="42.41" fill="#f0e0b0"/>
<rect x="1222.33" y="90.73" width="42.22" height="42.41" fill="#ecd38f"/>
<rect x="1264.05" y="90.73" width="42.22" height="42.41" fill="#3f70df"/>
<rect x="1305.78" y="90.73" width="42.22" height="42.41" fill="#dc9513"/>
<rect x="1013.70" y="132.64" width="42.22" height="42.41" fill="#e9c46d"/>
<rect x="1055.42" y="132.64" width="42.22" height="42.41" fill="#e6b757"/>
<rect x="1097.15" y="132.64" width="42.22" height="42.41" fill="#c5e0ee"/>
<rect x="1138.88" y="132.64" width="42.22" height="42.41" fill="#fb7201"/>
<rect x="1180.60" y="132.64" width="42.22" height="42.41" fill="#63a4d0"/>
<rect x="1222.33" y="132.64" width="42.22" height="42.41" fill="#8bbcdc"/>
<rect x="1264.05" y="132.64" width="42.22" height="42.41" fill="#e9c670"/>
<rect x="1305.78" y="132.64" width="42.22" height="42.41" fill="#f3e5bc"/>
<rect x="1013.70" y="174.55" width="42.22" height="42.41" fill="#e6f1f8"/>
<rect x="1055.42" y="174.55" width="42.22" height="42.41" fill="#5e9fd0"/>
<rect x="1097.15" y="174.55" width="42.22" height="42.41" fill="#f0e0b0"/>
<rect x="1138.88" y="174.55" width="42.22" height="42.41" fill="#63a4d0"/>
<rect x="1180.60" y="174.55" width="42.22" height="42.41" fill="#fb7201"/>
<rect x="1222.33" y="174.55" width="42.22" height="42.41" fill="#efd89c"/>
<rect x="1264.05" y="174.55" width="42.22" height="42.41" fill="#f6f0da"/>
<rect x="1305.78" y="174.55" width="42.22" height="42.41" fill="#4d90d6"/>
<rect x="1013.70" y="216.46" width="42.22" height="42.41" fill="#b5d4e8"/>
<rect x="1055.42" y="216.46" width="42.22" height="42.41" fill="#f3e9c8"/>
<rect x="1097.15" y="216.46" width="42.22" height="42.41" fill="#ecd38f"/>
<rect x="1138.88" y="216.46" width="42.22" height="42.41" fill="#8bbcdc"/>
<rect x="1180.60" y="216.46" width="42.22" height="42.41" fill="#efd89c"/>
<rect x="1222.33" y="216.46" width="42.22" height="42.41" fill="#fb7201"/>
<rect x="1264.05" y="216.46" width="42.22" height="42.41" fill="#a5cce3"/>
<rect x="1305.78" y="216.46" width="42.22" height="42.41" fill="#6dabd0"/>
<rect x="1013.70" y="258.38" width="42.22" height="42.41" fill="#df8c07"/>
<rect x="1055.42" y="258.38" width="42.22" height="42.41" fill="#df8c07"/>
<rect x="1097.15" y="258.38" width="42.22" height="42.41" fill="#3f70df"/>
<rect x="1138.88" y="258.38" width="42.22" height="42.41" fill="#e9c670"/>
<rect x="1180.60" y="258.38" width="42.22" height="42.41" fill="#f6f0da"/>
<rect x="1222.33" y="258.38" width="42.22" height="42.41" fill="#a5cce3"/>
<rect x="1264.05" y="258.38" width="42.22" height="42.41" fill="#fb7201"/>
<rect x="1305.78" y="258.38" width="42.22" height="42.41" fill="#4177dd"/>
<rect x="1013.70" y="300.29" width="42.22" height="42.41" fill="#4482d8"/>
<rect x="1055.42" y="300.29" width="42.22" height="42.41" fill="#5294d4"/>
<rect x="1097.15" y="300.29" width="42.22" height="42.41" fill="#dc9513"/>
<rect x="1138.88" y="300.29" width="42.22" height="42.41" fill="#f3e5bc"/>
<rect x="1180.60" y="300.29" width="42.22" height="42.41" fill="#4d90d6"/>
<rect x="1222.33" y="300.29" width="42.22" height="42.41" fill="#6dabd0"/>
<rect x="1264.05" y="300.29" width="42.22" height="42.41" fill="#4177dd"/>
<rect x="1305.78" y="300.29" width="42.22" height="42.41" fill="#fb7201"/>
</g>
<g class="dj" font-size="35" font-style="italic" fill="#000">
<line x1="1348.5" x2="1354" y1="27.9" y2="27.9" stroke="#9a9a9a" stroke-width="1"/><text x="1354.3" y="41.2">P1</text>
<line x1="1348.5" x2="1354" y1="69.8" y2="69.8" stroke="#9a9a9a" stroke-width="1"/><text x="1354.3" y="83.1">P2</text>
<line x1="1348.5" x2="1354" y1="111.7" y2="111.7" stroke="#9a9a9a" stroke-width="1"/><text x="1354.3" y="125.0">P3</text>
<line x1="1348.5" x2="1354" y1="153.6" y2="153.6" stroke="#9a9a9a" stroke-width="1"/><text x="1354.3" y="166.9">P4</text>
<line x1="1348.5" x2="1354" y1="195.5" y2="195.5" stroke="#9a9a9a" stroke-width="1"/><text x="1354.3" y="208.8">P5</text>
<line x1="1348.5" x2="1354" y1="237.4" y2="237.4" stroke="#9a9a9a" stroke-width="1"/><text x="1354.3" y="250.7">P6</text>
<line x1="1348.5" x2="1354" y1="279.3" y2="279.3" stroke="#9a9a9a" stroke-width="1"/><text x="1354.3" y="292.6">P7</text>
<line x1="1348.5" x2="1354" y1="321.2" y2="321.2" stroke="#9a9a9a" stroke-width="1"/><text x="1354.3" y="334.5">P8</text>
</g>

<!-- p_c1 -->
<g filter="url(#blurc)">
<rect x="189.0" y="390.1" width="566.5" height="551.4" fill="none" stroke="#5c5c5c" stroke-width="2"/>
<g stroke="#5c5c5c" stroke-width="1.7"><line x1="189.0" y1="941.5" x2="189.0" y2="946.0"/><line x1="245.7" y1="941.5" x2="245.7" y2="946.0"/><line x1="302.3" y1="941.5" x2="302.3" y2="946.0"/><line x1="358.9" y1="941.5" x2="358.9" y2="946.0"/><line x1="415.6" y1="941.5" x2="415.6" y2="946.0"/><line x1="472.2" y1="941.5" x2="472.2" y2="946.0"/><line x1="528.9" y1="941.5" x2="528.9" y2="946.0"/><line x1="585.5" y1="941.5" x2="585.5" y2="946.0"/><line x1="642.2" y1="941.5" x2="642.2" y2="946.0"/><line x1="698.9" y1="941.5" x2="698.9" y2="946.0"/><line x1="755.5" y1="941.5" x2="755.5" y2="946.0"/><line x1="184.5" y1="941.5" x2="189.0" y2="941.5"/><line x1="184.5" y1="862.7" x2="189.0" y2="862.7"/><line x1="184.5" y1="783.8" x2="189.0" y2="783.8"/><line x1="184.5" y1="705.0" x2="189.0" y2="705.0"/><line x1="184.5" y1="626.1" x2="189.0" y2="626.1"/><line x1="184.5" y1="547.3" x2="189.0" y2="547.3"/><line x1="184.5" y1="468.4" x2="189.0" y2="468.4"/><line x1="184.5" y1="389.6" x2="189.0" y2="389.6"/></g>
<g fill="none" stroke="#30307e" stroke-width="1.45" stroke-linejoin="round">
<path d="M189.5 808.3 C189.6 803.8 189.7 791.4 189.8 781.5 C190.0 771.6 189.9 761.4 190.4 748.8 C190.9 736.2 191.9 717.4 192.9 705.9 C193.9 694.4 194.9 689.0 196.3 680.0 C197.7 671.0 199.4 661.5 201.5 652.2 C203.6 642.9 205.8 633.0 208.6 624.3 C211.3 615.6 213.5 609.0 218.0 600.0 C222.5 591.0 228.2 579.5 235.7 570.0 C243.2 560.5 253.8 549.9 262.9 542.9 C271.9 535.9 280.9 531.6 290.0 528.0 C299.1 524.4 309.8 522.8 317.2 521.2 C324.6 519.6 331.8 519.0 334.7 518.6"/><path d="M334.7 518.6 C338.2 517.6 346.8 514.9 356.0 512.5 C365.2 510.1 381.0 506.4 390.0 504.4 C399.0 502.3 403.6 501.4 410.0 500.2 C416.4 499.0 422.3 498.1 428.6 497.4 C434.9 496.6 444.7 496.0 447.9 495.7"/><path d="M447.9 495.7 C452.6 493.4 465.6 489.1 476.4 482.0 C487.2 474.9 498.7 461.8 512.9 452.9 C527.1 444.0 545.2 435.1 561.4 428.6 C577.6 422.1 593.8 417.9 610.0 414.0 C626.2 410.1 644.4 407.3 658.6 405.5 C672.8 403.7 684.9 403.4 695.0 403.1 C705.1 402.8 711.2 402.8 719.3 403.6 C727.4 404.4 737.6 406.5 743.6 407.9 C749.6 409.3 753.3 411.4 755.3 412.1"/><path d="M503.1 482.0 C506.8 479.2 515.3 471.9 525.0 465.0 C534.7 458.1 547.2 448.8 561.4 440.7 C575.6 432.6 595.8 421.9 610.0 416.4 C624.2 410.9 634.3 410.0 646.4 407.9 C658.5 405.8 674.7 404.6 682.8 403.8 C690.9 403.0 693.0 403.2 695.0 403.1"/><path d="M476.4 482.0 L503.1 482.0"/><path d="M464.3 496.3 L491.0 483.0"/><path d="M335.2 519.5 C335.1 529.6 334.7 559.9 334.4 580.0 C334.1 600.1 333.8 622.4 333.5 640.0 C333.2 657.6 332.7 675.1 332.5 685.5 C332.3 695.9 332.5 699.4 332.5 702.2"/><path d="M189.3 808.3 L327.1 808.3"/><path d="M332.5 702.2 C332.1 706.5 330.5 720.2 329.8 728.0 C329.1 735.8 328.6 740.1 328.2 748.8 C327.8 757.5 327.5 770.1 327.3 780.0 C327.1 789.9 327.1 803.6 327.1 808.3"/><path d="M327.1 808.3 L327.3 941.5"/><path d="M190.0 808.3 C190.4 808.9 191.8 808.4 192.3 812.0 C192.8 815.6 192.9 818.7 192.8 830.0 C192.7 841.3 192.0 861.4 191.6 880.0 C191.2 898.6 190.4 931.2 190.2 941.5"/><path d="M356.6 518.6 C360.5 517.3 372.5 513.3 380.0 511.0 C387.5 508.7 398.0 505.8 401.6 504.7"/><path d="M356.6 518.6 C357.0 523.0 358.2 536.4 358.8 545.0 C359.4 553.6 359.9 560.8 360.4 570.0 C360.9 579.2 361.6 590.8 362.0 600.0 C362.4 609.2 362.6 615.8 362.6 625.0 C362.6 634.2 362.6 644.9 362.2 655.0 C361.8 665.1 360.7 680.4 360.4 685.5"/><path d="M377.8 587.6 C377.5 589.0 376.7 591.1 376.2 595.7 C375.7 600.3 375.0 607.6 374.6 615.0 C374.2 622.4 373.9 628.2 373.9 640.0 C373.8 651.8 374.2 675.1 374.3 685.5 C374.4 695.9 373.6 659.5 374.3 702.2 C375.0 744.9 377.9 901.6 378.6 941.5"/><path d="M395.1 505.9 C394.4 513.8 392.3 538.0 391.0 553.0 C389.7 568.0 388.3 588.3 387.4 595.7 C386.5 603.1 385.8 597.3 385.5 597.6"/><path d="M402.9 504.4 C402.9 508.7 403.1 521.2 403.2 530.0 C403.3 538.8 403.3 548.8 403.5 557.1 C403.7 565.4 403.8 573.1 404.2 580.0 C404.6 586.9 405.0 590.3 405.6 598.3 C406.2 606.3 406.5 613.6 408.1 628.1 C409.7 642.6 412.3 664.5 415.0 685.0 C417.7 705.5 420.9 732.1 424.2 750.8 C427.4 769.5 430.9 781.4 434.5 797.0 C438.1 812.6 442.7 830.9 445.9 844.7 C449.1 858.5 451.1 868.8 453.5 880.0 C455.9 891.2 458.3 901.8 460.3 912.0 C462.3 922.2 464.7 936.6 465.6 941.5"/><path d="M386.5 597.6 L405.4 597.6"/><path d="M332.5 702.2 L374.3 702.2"/><path d="M401.2 751.0 L401.2 941.5"/><path d="M447.9 495.7 C449.6 499.2 454.5 510.0 458.0 517.0 C461.5 524.0 465.9 531.5 469.1 537.8 C472.3 544.1 474.6 548.9 477.0 555.0 C479.4 561.1 481.9 568.1 483.7 574.3 C485.5 580.5 487.0 585.9 488.0 592.0 C489.0 598.1 489.3 604.6 489.8 610.7 C490.3 616.9 490.8 624.0 491.0 628.9 C491.2 633.8 491.2 626.0 491.0 640.0 C490.8 654.0 490.6 680.5 489.8 712.9 C489.0 745.3 487.2 803.1 486.1 834.3 C485.0 865.5 484.2 882.1 483.0 900.0 C481.8 917.9 479.6 934.6 478.9 941.5"/><path d="M464.3 496.3 C466.2 499.6 471.9 509.1 476.0 516.0 C480.1 522.9 484.4 530.1 488.6 537.8 C492.8 545.5 496.9 553.9 501.0 562.0 C505.1 570.1 509.4 578.9 512.9 586.4 C516.4 593.9 519.2 599.9 522.0 607.0 C524.8 614.1 528.6 625.2 529.9 628.9"/><path d="M491.0 483.0 C492.3 485.7 496.2 493.5 499.0 499.0 C501.8 504.5 504.2 509.2 508.0 516.0 C511.8 522.8 517.1 531.9 522.0 540.0 C526.9 548.1 532.9 558.4 537.1 564.6 C541.3 570.8 543.8 573.4 547.0 577.0 C550.2 580.6 553.6 583.6 556.6 586.4 C559.6 589.2 562.4 591.8 565.0 594.0 C567.6 596.2 571.2 598.8 572.4 599.8"/><path d="M503.1 482.0 C504.4 484.8 508.2 493.3 511.0 499.0 C513.8 504.7 516.4 509.5 520.1 516.0 C523.8 522.5 528.5 530.7 533.0 538.0 C537.5 545.3 542.9 553.6 546.9 559.7 C550.9 565.8 553.8 570.0 557.0 574.5 C560.2 579.0 563.6 583.0 566.3 586.4 C569.0 589.8 571.0 592.6 573.0 595.0 C575.0 597.4 577.5 600.0 578.4 601.0"/><path d="M529.9 628.9 C530.8 627.6 533.0 623.6 535.0 621.0 C537.0 618.4 539.7 615.4 542.0 613.1 C544.3 610.8 546.6 608.8 549.0 607.0 C551.4 605.2 554.3 603.3 556.6 602.2 C558.9 601.1 561.0 600.6 563.0 600.2 C565.0 599.8 566.9 599.8 568.7 599.8 C570.5 599.8 572.4 600.0 574.0 600.3 C575.6 600.6 576.6 600.6 578.4 601.5 C580.2 602.4 583.0 604.0 585.0 605.5 C587.0 607.0 588.1 607.1 590.6 610.7 C593.1 614.3 597.4 621.8 600.0 627.0 C602.6 632.2 603.3 635.2 606.0 642.0 C608.7 648.8 612.5 658.2 616.0 668.0 C619.5 677.8 623.8 690.4 627.0 700.7 C630.2 711.0 632.6 719.9 635.0 730.0 C637.4 740.1 639.4 748.9 641.6 761.4 C643.8 773.9 646.0 788.8 648.0 805.0 C650.0 821.2 652.0 842.8 653.7 858.6 C655.4 874.4 656.6 886.2 658.0 900.0 C659.4 913.8 661.5 934.6 662.2 941.5"/><path d="M537.1 628.9 C537.3 630.8 536.7 628.1 538.3 640.0 C539.9 651.9 545.1 685.8 546.9 700.0 C548.7 714.2 547.9 711.7 549.3 725.0 C550.6 738.3 553.0 761.8 555.0 780.0 C557.0 798.2 559.2 816.0 561.4 834.3 C563.6 852.6 565.6 872.1 568.0 890.0 C570.4 907.9 574.2 932.9 575.5 941.5"/><path d="M595.4 613.1 C597.0 615.8 601.8 623.3 605.0 629.0 C608.2 634.7 611.1 640.1 614.8 647.1 C618.5 654.1 622.5 662.1 627.0 671.0 C631.5 679.9 637.6 690.7 641.6 700.7 C645.6 710.7 648.2 720.9 651.0 731.0 C653.8 741.1 655.8 749.1 658.6 761.4 C661.4 773.7 665.2 790.8 668.0 805.0 C670.8 819.2 673.2 831.4 675.5 846.4 C677.8 861.4 680.0 879.1 682.0 895.0 C684.0 910.9 686.8 933.8 687.7 941.5"/><path d="M578.4 601.0 C579.8 602.1 584.2 605.5 587.0 607.5 C589.8 609.5 590.2 609.9 595.4 613.1 C600.6 616.3 610.3 622.0 618.0 626.5 C625.7 631.0 634.6 636.0 641.6 640.0 C648.6 644.0 653.1 646.4 660.0 650.3 C666.9 654.1 674.5 657.9 682.8 663.1 C691.1 668.3 701.9 675.6 710.0 681.5 C718.1 687.4 725.6 693.5 731.4 698.3 C737.2 703.1 741.0 706.4 745.0 710.3 C749.0 714.1 753.6 719.5 755.3 721.4"/><path d="M447.9 495.9 L464.3 496.3"/><path d="M334.7 518.6 C336.4 518.8 341.4 519.6 345.0 519.6 C348.6 519.6 354.7 518.8 356.6 518.6"/></g>
<g fill="none" stroke="#3c3cd8" stroke-width="1.45" stroke-linejoin="round">
<path d="M334.7 518.6 C334.0 521.0 331.5 528.1 330.5 533.0 C329.5 537.9 329.3 539.7 328.6 548.0 C327.9 556.3 327.0 567.6 326.4 582.9 C325.8 598.2 325.4 615.9 325.0 640.0 C324.6 664.1 324.9 703.8 324.3 727.4 C323.8 751.0 322.1 772.5 321.7 781.5"/><path d="M189.3 781.5 L321.7 781.5"/><path d="M321.7 781.5 C322.3 777.4 324.4 764.2 325.5 757.0 C326.6 749.8 327.3 744.3 328.1 738.1 C328.9 731.9 329.8 726.0 330.5 720.0 C331.2 714.0 332.2 705.2 332.5 702.2"/><path d="M332.5 702.2 C332.3 709.3 331.6 731.8 331.3 745.0 C331.1 758.2 331.0 748.8 331.0 781.5 C331.0 814.2 331.2 914.8 331.2 941.5"/><path d="M360.4 685.5 C360.6 681.2 361.1 667.6 361.6 660.0 C362.1 652.4 362.8 646.3 363.5 640.0 C364.2 633.7 365.0 627.2 366.0 622.0 C367.0 616.8 368.4 612.8 369.4 608.6 C370.4 604.4 371.3 600.0 372.2 597.0 C373.1 594.0 373.7 592.2 374.6 590.6 C375.5 589.0 376.7 587.7 377.8 587.4 C378.9 587.1 380.1 587.8 381.0 588.6 C381.9 589.4 382.6 590.5 383.3 592.0 C384.1 593.5 385.1 596.7 385.5 597.6"/><path d="M385.5 597.6 C385.4 599.7 384.7 602.9 384.6 610.0 C384.5 617.1 384.9 616.5 385.1 640.0 C385.4 663.5 385.9 732.5 386.1 751.0"/><path d="M386.1 751.0 C385.5 766.7 383.4 813.2 382.2 845.0 C380.9 876.8 379.2 925.4 378.6 941.5"/><path d="M386.1 751.0 L423.7 751.0"/><path d="M332.5 685.5 L374.3 685.5"/><path d="M491.0 628.9 L537.1 628.9"/><path d="M537.1 628.9 C537.8 627.4 539.9 622.6 541.5 620.0 C543.1 617.4 545.0 615.2 546.9 613.1 C548.8 611.0 551.0 609.1 553.0 607.5 C555.0 605.9 557.2 604.4 559.0 603.4 C560.8 602.4 562.4 601.8 564.0 601.3 C565.6 600.8 567.9 600.5 568.7 600.3"/><path d="M595.4 613.6 C599.2 615.9 610.3 622.9 618.0 627.5 C625.7 632.1 634.6 637.4 641.6 641.5 C648.6 645.6 653.1 648.1 660.0 652.0 C666.9 655.9 674.5 659.8 682.8 665.0 C691.1 670.2 701.9 677.5 710.0 683.3 C718.1 689.1 725.6 695.1 731.4 699.8 C737.2 704.5 741.0 707.7 745.0 711.3 C749.0 714.9 753.6 719.7 755.3 721.4"/></g>
<g fill="none" stroke="#4848e6" stroke-width="0.9" opacity="0.55"><path d="M189.5 808.3 C189.6 803.8 189.7 791.4 189.8 781.5 C190.0 771.6 189.9 761.4 190.4 748.8 C190.9 736.2 191.9 717.4 192.9 705.9 C193.9 694.4 194.9 689.0 196.3 680.0 C197.7 671.0 199.4 661.5 201.5 652.2 C203.6 642.9 205.8 633.0 208.6 624.3 C211.3 615.6 213.5 609.0 218.0 600.0 C222.5 591.0 228.2 579.5 235.7 570.0 C243.2 560.5 253.8 549.9 262.9 542.9 C271.9 535.9 280.9 531.6 290.0 528.0 C299.1 524.4 309.8 522.8 317.2 521.2 C324.6 519.6 331.8 519.0 334.7 518.6"/><path d="M334.7 518.6 C338.2 517.6 346.8 514.9 356.0 512.5 C365.2 510.1 381.0 506.4 390.0 504.4 C399.0 502.3 403.6 501.4 410.0 500.2 C416.4 499.0 422.3 498.1 428.6 497.4 C434.9 496.6 444.7 496.0 447.9 495.7"/><path d="M447.9 495.7 C452.6 493.4 465.6 489.1 476.4 482.0 C487.2 474.9 498.7 461.8 512.9 452.9 C527.1 444.0 545.2 435.1 561.4 428.6 C577.6 422.1 593.8 417.9 610.0 414.0 C626.2 410.1 644.4 407.3 658.6 405.5 C672.8 403.7 684.9 403.4 695.0 403.1 C705.1 402.8 711.2 402.8 719.3 403.6 C727.4 404.4 737.6 406.5 743.6 407.9 C749.6 409.3 753.3 411.4 755.3 412.1"/><path d="M578.4 601.0 C579.8 602.1 584.2 605.5 587.0 607.5 C589.8 609.5 590.2 609.9 595.4 613.1 C600.6 616.3 610.3 622.0 618.0 626.5 C625.7 631.0 634.6 636.0 641.6 640.0 C648.6 644.0 653.1 646.4 660.0 650.3 C666.9 654.1 674.5 657.9 682.8 663.1 C691.1 668.3 701.9 675.6 710.0 681.5 C718.1 687.4 725.6 693.5 731.4 698.3 C737.2 703.1 741.0 706.4 745.0 710.3 C749.0 714.1 753.6 719.5 755.3 721.4"/><path d="M356.6 518.6 C360.5 517.3 372.5 513.3 380.0 511.0 C387.5 508.7 398.0 505.8 401.6 504.7"/><path d="M447.9 495.7 C449.6 499.2 454.5 510.0 458.0 517.0 C461.5 524.0 465.9 531.5 469.1 537.8 C472.3 544.1 474.6 548.9 477.0 555.0 C479.4 561.1 481.9 568.1 483.7 574.3 C485.5 580.5 487.0 585.9 488.0 592.0 C489.0 598.1 489.3 604.6 489.8 610.7 C490.3 616.9 490.8 624.0 491.0 628.9 C491.2 633.8 491.2 626.0 491.0 640.0 C490.8 654.0 490.6 680.5 489.8 712.9 C489.0 745.3 487.2 803.1 486.1 834.3 C485.0 865.5 484.2 882.1 483.0 900.0 C481.8 917.9 479.6 934.6 478.9 941.5"/><path d="M402.9 504.4 C402.9 508.7 403.1 521.2 403.2 530.0 C403.3 538.8 403.3 548.8 403.5 557.1 C403.7 565.4 403.8 573.1 404.2 580.0 C404.6 586.9 405.0 590.3 405.6 598.3 C406.2 606.3 406.5 613.6 408.1 628.1 C409.7 642.6 412.3 664.5 415.0 685.0 C417.7 705.5 420.9 732.1 424.2 750.8 C427.4 769.5 430.9 781.4 434.5 797.0 C438.1 812.6 442.7 830.9 445.9 844.7 C449.1 858.5 451.1 868.8 453.5 880.0 C455.9 891.2 458.3 901.8 460.3 912.0 C462.3 922.2 464.7 936.6 465.6 941.5"/></g>
<g class="lib" font-weight="bold" font-size="28.5" fill="#262626" stroke="#fff" stroke-width="0.45">
<text x="175.5" y="951.0" text-anchor="end">600</text><text x="175.5" y="872.2" text-anchor="end">800</text><text x="175.5" y="793.3" text-anchor="end">1000</text><text x="175.5" y="714.5" text-anchor="end">1200</text><text x="175.5" y="635.6" text-anchor="end">1400</text><text x="175.5" y="556.8" text-anchor="end">1600</text><text x="175.5" y="477.9" text-anchor="end">1800</text><text x="175.5" y="399.1" text-anchor="end">2000</text><text x="185.2" y="977" text-anchor="middle">0</text><text x="301.0" y="977" text-anchor="middle">20</text><text x="416.0" y="977" text-anchor="middle">40</text><text x="529.5" y="977" text-anchor="middle">60</text><text x="644.0" y="977" text-anchor="middle">80</text><text x="759.0" y="977" text-anchor="middle">100</text><text x="166.5" y="1051.5" font-size="33.5">Al</text><text x="396" y="1046" font-size="33.5">Mol % Ti</text><text x="737" y="1051" font-size="33.5">Ti</text><text transform="translate(69 680) rotate(-90)" text-anchor="middle" font-size="31.5">T [K]</text></g>
<g class="lib" font-size="22.3" fill="#2a2a2a">
<text x="271" y="453">Liquid</text><text x="341" y="495">Ti<tspan font-size="15.3">2</tspan>AL<tspan font-size="15.3">5</tspan></text><text x="422" y="616">TiAl</text><text x="434" y="668.5">TiAl<tspan font-size="15.3">2</tspan></text><text x="220" y="689">TiAl<tspan font-size="15.3">3</tspan>(h)</text><text x="227" y="842.5">Fcc</text><text x="228" y="885.5">TiAl<tspan font-size="15.3">3</tspan>(l)</text><text x="641" y="519.5">Bcc</text><text x="521" y="598.5">Hcp</text><text x="563" y="722.5">Ti<tspan font-size="15.3">3</tspan>Al</text><text x="683" y="771">Hcp</text><text transform="translate(421.5 896) rotate(-90)">Ti<tspan font-size="15.3">3</tspan>Al<tspan font-size="15.3">5</tspan></text></g>
<line x1="370.7" y1="502.5" x2="370.7" y2="523.6" stroke="#222" stroke-width="1.7"/><polygon points="370.7,536.6 364.9,523.6 376.5,523.6" fill="#111"/><line x1="218.7" y1="829.4" x2="204.0" y2="827.1" stroke="#222" stroke-width="1.7"/><polygon points="190.7,825.1 204.8,822.2 203.3,832.1" fill="#111"/><line x1="297.0" y1="876.6" x2="313.1" y2="871.8" stroke="#222" stroke-width="1.7"/><polygon points="326.0,868.0 314.5,876.6 311.6,867.0" fill="#111"/><line x1="434.5" y1="666.2" x2="394.0" y2="674.3" stroke="#222" stroke-width="1.7"/><polygon points="380.8,676.9 393.1,669.4 395.0,679.2" fill="#111"/>
</g>

<!-- p_c2 -->
<g filter="url(#blurc)">
<g clip-path="url(#clipc2)">
<rect x="790.7" y="388.6" width="560.7" height="553.8" fill="#3cc88c"/>
<path d="M790.7 726.2 C790.9 724.5 791.3 719.5 792.0 716.1 C792.6 712.8 793.6 712.0 794.6 706.0 C795.5 700.0 796.5 689.0 797.9 680.0 C799.3 671.0 801.0 661.4 803.1 652.1 C805.1 642.8 807.4 632.8 810.1 624.1 C812.8 615.4 814.9 608.8 819.4 599.7 C823.9 590.6 829.5 579.2 836.9 569.6 C844.3 560.1 854.9 549.5 863.8 542.4 C872.8 535.4 881.7 531.1 890.7 527.5 C899.6 523.8 910.2 522.2 917.6 520.7 C925.0 519.1 932.0 518.5 934.9 518.0 L934.9 518.0 C934.2 520.5 931.8 527.6 930.8 532.5 C929.7 537.4 929.5 539.2 928.9 547.5 C928.2 555.9 927.3 567.2 926.7 582.6 C926.1 598.0 925.7 615.7 925.3 639.9 C925.0 664.0 925.2 703.9 924.6 727.6 C924.1 751.2 922.5 772.8 922.0 781.8 L922.0 781.8 L790.7 781.8 Z" fill="#ecd0fa" stroke="#ecd0fa" stroke-width="0.7" />
<path d="M790.7 781.8 L925.3 781.8 L926.8 808.7 L790.7 808.7 Z" fill="#78816f" stroke="#78816f" stroke-width="0.7" />
<path d="M790.7 808.7 L927.1 808.7 L927.1 942.4 L790.7 942.4 Z" fill="#4b5a28" stroke="#4b5a28" stroke-width="0.7" />
<path d="M790.7 810.4 L792.5 810.4 L792.5 824.5 L790.7 824.5 Z" fill="#8a6cc8" stroke="#8a6cc8" stroke-width="0.7" />
<path d="M927.1 808.7 L931.0 808.7 L931.0 942.4 L927.1 942.4 Z" fill="#ffffff" stroke="#ffffff" stroke-width="0.7" />
<path d="M922.8 775.3 L926.3 745.2 L929.3 745.2 L931.0 808.7 L926.8 808.7 Z" fill="#ffffff" stroke="#ffffff" stroke-width="0.7" />
<path d="M935.1 519.4 C934.4 521.6 932.0 527.8 931.0 532.5 C930.1 537.2 929.9 539.2 929.3 547.5 C928.6 555.9 927.8 567.2 927.3 582.6 C926.8 598.0 926.4 615.7 926.1 639.9 C925.8 664.0 925.8 707.5 925.6 727.6 C925.4 747.6 925.0 754.8 924.9 760.3 L929.8 760.3 C930.1 754.8 931.2 739.6 931.7 727.2 C932.2 714.7 932.5 700.1 932.7 685.5 C933.0 671.0 933.1 657.5 933.4 639.9 C933.7 622.2 934.1 599.6 934.4 579.7 C934.7 559.8 935.2 530.3 935.4 520.5 Z" fill="#c4122e" stroke="#c4122e" stroke-width="0.7" />
<path d="M925.3 770.3 L928.8 770.3 L929.1 792.4 L925.9 792.4 Z" fill="#28306a" stroke="#28306a" stroke-width="0.7" />
<path d="M934.9 518.0 C936.6 518.2 941.5 519.0 945.1 519.0 C948.7 519.0 954.7 518.2 956.6 518.0 L956.6 518.0 C956.9 522.5 958.1 535.9 958.8 544.5 C959.4 553.1 959.8 560.4 960.3 569.6 C960.9 578.8 961.6 590.5 961.9 599.7 C962.3 608.9 962.5 615.6 962.5 624.8 C962.6 634.0 962.5 644.8 962.1 654.9 C961.8 665.0 960.6 680.4 960.3 685.5 L960.3 685.5 L932.7 685.5 L932.7 685.5 L933.7 639.9 L934.6 579.7 L935.4 518.9 Z" fill="#72e2d6" stroke="#72e2d6" stroke-width="0.7" />
<path d="M942.1 516.6 L952.0 513.6 L966.9 509.6 L967.9 514.0 L956.6 518.3 L947.1 519.3 Z" fill="#16304e" stroke="#16304e" stroke-width="0.7" />
<path d="M967.9 509.3 L989.6 503.8 L1002.0 501.2 L1001.5 504.4 L979.7 510.7 L968.4 514.0 Z" fill="#ffffff" stroke="#ffffff" stroke-width="0.7" />
<path d="M956.6 518.0 C960.4 516.8 972.3 512.7 979.7 510.4 C987.2 508.1 997.6 505.1 1001.1 504.1 L1001.1 504.1 L994.7 505.3 L994.7 505.3 C994.0 513.2 991.9 537.5 990.6 552.6 C989.4 567.6 988.0 588.0 987.1 595.4 C986.2 602.9 985.5 597.0 985.2 597.3 L985.2 597.3 C984.8 596.4 983.8 593.2 983.0 591.7 C982.3 590.2 981.6 589.1 980.7 588.3 C979.8 587.5 978.6 586.7 977.6 587.1 C976.5 587.4 975.3 588.7 974.4 590.3 C973.5 591.9 972.9 593.7 972.0 596.7 C971.2 599.7 970.3 604.2 969.3 608.4 C968.2 612.5 966.9 616.5 965.9 621.8 C964.9 627.1 964.1 633.5 963.4 639.9 C962.7 646.2 962.0 652.3 961.5 659.9 C961.0 667.5 960.5 681.3 960.3 685.5 L960.3 685.5 C960.6 680.4 961.8 665.0 962.1 654.9 C962.5 644.8 962.6 634.0 962.5 624.8 C962.5 615.6 962.3 608.9 961.9 599.7 C961.6 590.5 960.9 578.8 960.3 569.6 C959.8 560.4 959.4 553.1 958.8 544.5 C958.1 535.9 956.9 522.5 956.6 518.0 Z" fill="#f0c840" stroke="#f0c840" stroke-width="0.7" />
<path d="M994.7 505.3 L1002.4 503.8 L1002.7 529.5 L1003.0 556.7 L1004.9 597.3 L986.9 597.3 L990.6 552.6 Z" fill="#3ff03c" stroke="#3ff03c" stroke-width="0.7" />
<path d="M960.3 685.5 L961.5 659.9 L963.4 639.9 L965.9 621.8 L969.3 608.4 L972.0 596.7 L974.4 590.3 L977.6 587.1 L977.6 587.3 L976.0 595.4 L974.4 614.8 L973.7 639.9 L974.1 685.5 Z" fill="#a8581a" stroke="#a8581a" stroke-width="0.7" />
<path d="M977.6 587.1 L980.7 588.3 L983.0 591.7 L985.2 597.3 L984.3 609.8 L984.8 639.9 L985.8 751.2 L983.2 800.4 L981.2 832.5 L976.7 832.5 L974.1 702.3 L974.1 685.5 L973.7 639.9 L974.4 614.8 L976.0 595.4 Z" fill="#ff4208" stroke="#ff4208" stroke-width="0.7" />
<path d="M976.7 832.5 L981.2 832.5 L978.7 942.4 L978.1 942.4 Z" fill="#ffffff" stroke="#ffffff" stroke-width="0.7" />
<path d="M932.2 686.8 L974.1 686.8 L974.1 704.3 L932.2 704.3 Z" fill="#e2f062" stroke="#e2f062" stroke-width="0.7" />
<path d="M931.8 704.3 L974.1 704.3 L976.7 832.5 L978.2 942.4 L931.4 942.4 Z" fill="#181f45" stroke="#181f45" stroke-width="0.7" />
<path d="M985.2 597.3 L1005.1 597.3 L1007.6 627.9 L1012.4 668.0 L985.7 675.5 L984.8 639.9 L984.3 609.8 Z" fill="#c9a817" stroke="#c9a817" stroke-width="0.7" />
<path d="M985.7 675.5 L1012.4 668.0 L1014.4 685.0 L1023.0 751.2 L985.8 751.2 Z" fill="#c9902a" stroke="#c9902a" stroke-width="0.7" />
<path d="M985.8 751.2 L1000.7 751.2 L1000.7 942.4 L978.7 942.4 L981.9 845.6 Z" fill="#4040b8" stroke="#4040b8" stroke-width="0.7" />
<path d="M1000.7 751.2 L1023.2 751.2 L1023.5 751.0 C1025.2 758.8 1030.1 781.7 1033.7 797.4 C1037.3 813.1 1041.8 831.4 1045.0 845.3 C1048.1 859.1 1050.1 869.4 1052.5 880.7 C1054.9 891.9 1057.2 902.5 1059.2 912.8 C1061.2 923.1 1063.6 937.5 1064.5 942.4 L1064.5 942.4 L1000.7 942.4 Z" fill="#34f2e2" stroke="#34f2e2" stroke-width="0.7" />
<path d="M1002.4 503.8 C1002.5 508.1 1002.6 520.7 1002.7 529.5 C1002.8 538.3 1002.8 548.3 1003.0 556.7 C1003.2 565.0 1003.4 572.8 1003.7 579.7 C1004.0 586.5 1004.4 590.0 1005.1 598.0 C1005.7 606.1 1006.0 613.4 1007.6 627.9 C1009.1 642.4 1011.7 664.5 1014.4 685.0 C1017.0 705.5 1020.3 732.3 1023.5 751.0 C1026.7 769.8 1030.1 781.7 1033.7 797.4 C1037.3 813.1 1041.8 831.4 1045.0 845.3 C1048.1 859.1 1050.1 869.4 1052.5 880.7 C1054.9 891.9 1057.2 902.5 1059.2 912.8 C1061.2 923.1 1063.6 937.5 1064.5 942.4 L1064.5 942.4 L1077.6 942.4 L1077.6 942.4 C1078.3 935.5 1080.5 918.7 1081.7 900.8 C1082.9 882.8 1083.6 866.1 1084.8 834.8 C1085.9 803.5 1087.6 745.5 1088.4 713.0 C1089.2 680.5 1089.4 653.9 1089.6 639.9 C1089.8 625.8 1089.8 633.6 1089.6 628.7 C1089.4 623.8 1088.9 616.6 1088.4 610.5 C1087.9 604.3 1087.6 597.8 1086.6 591.7 C1085.6 585.6 1084.2 580.1 1082.4 573.9 C1080.6 567.7 1078.2 560.7 1075.8 554.6 C1073.3 548.5 1071.1 543.7 1067.9 537.3 C1064.8 531.0 1060.4 523.5 1056.9 516.4 C1053.4 509.4 1048.6 498.6 1046.9 495.1 L1046.9 495.1 L1027.8 496.8 L1009.4 499.6 L1002.4 501.6 Z" fill="#a068b0" stroke="#a068b0" stroke-width="0.7" />
<path d="M1046.9 495.1 C1048.6 498.6 1053.4 509.4 1056.9 516.4 C1060.4 523.5 1064.8 531.0 1067.9 537.3 C1071.1 543.7 1073.3 548.5 1075.8 554.6 C1078.2 560.7 1080.6 567.7 1082.4 573.9 C1084.2 580.1 1085.6 585.6 1086.6 591.7 C1087.6 597.8 1087.9 604.3 1088.4 610.5 C1088.9 616.6 1089.4 625.7 1089.6 628.7 L1089.6 628.7 L1128.1 628.7 L1128.1 628.7 C1126.8 625.1 1123.1 613.9 1120.3 606.7 C1117.5 599.6 1114.7 593.6 1111.3 586.1 C1107.8 578.6 1103.5 569.7 1099.5 561.6 C1095.5 553.5 1091.4 545.0 1087.2 537.3 C1083.1 529.6 1078.8 522.4 1074.8 515.4 C1070.8 508.5 1065.1 499.0 1063.2 495.7 L1063.2 495.7 L1046.9 495.3 Z" fill="#1d1df2" stroke="#1d1df2" stroke-width="0.7" />
<path d="M1063.2 495.7 C1065.1 499.0 1070.8 508.5 1074.8 515.4 C1078.8 522.4 1083.1 529.6 1087.2 537.3 C1091.4 545.0 1095.5 553.5 1099.5 561.6 C1103.5 569.7 1107.8 578.6 1111.3 586.1 C1114.7 593.6 1117.5 599.6 1120.3 606.7 C1123.1 613.9 1126.8 625.1 1128.1 628.7 L1128.1 628.7 C1129.0 627.4 1131.2 623.4 1133.2 620.8 C1135.2 618.2 1137.8 615.2 1140.1 612.9 C1142.4 610.5 1144.6 608.6 1147.0 606.7 C1149.4 604.9 1152.2 603.1 1154.5 601.9 C1156.8 600.8 1158.9 600.3 1160.9 599.9 C1162.9 599.5 1165.0 599.6 1166.5 599.5 C1168.1 599.5 1169.6 599.5 1170.2 599.5 L1170.2 599.5 C1169.0 598.6 1165.5 595.9 1162.9 593.7 C1160.2 591.5 1157.5 588.9 1154.5 586.1 C1151.6 583.2 1148.3 580.3 1145.0 576.6 C1141.8 573.0 1139.4 570.4 1135.2 564.2 C1131.1 558.0 1125.1 547.6 1120.3 539.5 C1115.5 531.4 1110.2 522.3 1106.4 515.4 C1102.6 508.6 1100.3 503.9 1097.5 498.4 C1094.7 492.9 1090.9 485.0 1089.6 482.3 L1089.6 482.3 L1063.2 495.7 Z" fill="#3a1fd2" stroke="#3a1fd2" stroke-width="0.7" />
<path d="M1089.6 482.3 C1090.9 485.0 1094.7 492.9 1097.5 498.4 C1100.3 503.9 1102.6 508.6 1106.4 515.4 C1110.2 522.3 1115.5 531.4 1120.3 539.5 C1125.1 547.6 1131.1 558.0 1135.2 564.2 C1139.4 570.4 1141.8 573.0 1145.0 576.6 C1148.3 580.3 1151.6 583.2 1154.5 586.1 C1157.5 588.9 1160.2 591.5 1162.9 593.7 C1165.5 595.9 1169.0 598.6 1170.2 599.5 L1170.2 599.5 L1176.1 600.7 L1176.1 600.7 C1175.2 599.7 1172.8 597.1 1170.8 594.7 C1168.8 592.3 1166.8 589.5 1164.1 586.1 C1161.5 582.6 1158.1 578.6 1154.9 574.1 C1151.7 569.7 1148.9 565.4 1144.9 559.3 C1141.0 553.2 1135.6 544.8 1131.2 537.5 C1126.8 530.2 1122.0 522.0 1118.4 515.4 C1114.8 508.9 1112.2 504.1 1109.4 498.4 C1106.6 492.7 1102.9 484.2 1101.6 481.3 L1101.6 481.3 L1089.6 482.3 Z" fill="#9aa51f" stroke="#9aa51f" stroke-width="0.7" />
<path d="M1046.9 495.1 L1060.9 488.8 L1075.2 481.3 L1089.6 481.9 L1063.2 495.7 Z" fill="#e8695a" stroke="#e8695a" stroke-width="0.7" />
<path d="M1075.2 481.3 C1078.2 479.0 1087.5 472.1 1093.6 467.3 C1099.6 462.4 1104.4 456.8 1111.3 452.1 C1118.2 447.4 1127.1 443.2 1135.1 439.2 C1143.1 435.1 1151.9 430.7 1159.3 427.7 C1166.7 424.7 1176.3 422.2 1179.7 421.1 L1179.7 424.6 C1176.3 427.2 1165.9 435.4 1159.3 439.9 C1152.7 444.4 1146.1 447.7 1140.1 451.7 C1134.1 455.8 1129.7 459.3 1123.3 464.3 C1116.8 469.2 1105.2 478.5 1101.6 481.3 Z" fill="#ff6a28" stroke="#ff6a28" stroke-width="0.7" />
<path d="M1101.6 481.3 C1105.2 478.5 1116.8 469.2 1123.3 464.3 C1129.7 459.3 1134.1 455.8 1140.1 451.7 C1146.1 447.7 1152.2 444.0 1159.3 439.9 C1166.4 435.7 1174.6 430.9 1182.6 426.9 C1190.7 423.0 1197.3 419.5 1207.4 416.3 C1217.5 413.1 1231.4 410.0 1243.4 408.0 C1255.4 405.9 1270.6 404.8 1279.4 404.1 C1288.3 403.3 1290.4 403.4 1296.5 403.4 C1302.5 403.3 1308.4 403.0 1315.6 403.9 C1322.8 404.7 1333.7 406.8 1339.6 408.3 C1345.6 409.7 1349.4 411.9 1351.4 412.6 L1351.4 412.6 L1351.4 721.5 L1351.2 721.5 C1349.5 719.7 1345.0 714.3 1341.0 710.4 C1337.1 706.5 1333.3 703.2 1327.5 698.4 C1321.8 693.5 1314.4 687.4 1306.4 681.5 C1298.3 675.6 1287.7 668.3 1279.4 663.0 C1271.2 657.8 1263.7 654.1 1256.9 650.2 C1250.1 646.3 1245.6 643.8 1238.7 639.9 C1231.7 635.9 1222.9 630.8 1215.3 626.3 C1207.7 621.8 1198.1 616.0 1192.9 612.9 C1187.8 609.7 1187.4 609.3 1184.6 607.3 C1181.8 605.2 1177.5 601.8 1176.1 600.7 L1176.1 600.7 C1175.2 599.7 1172.8 597.1 1170.8 594.7 C1168.8 592.3 1166.8 589.5 1164.1 586.1 C1161.5 582.6 1158.1 578.6 1154.9 574.1 C1151.7 569.7 1148.9 565.4 1144.9 559.3 C1141.0 553.2 1135.6 544.8 1131.2 537.5 C1126.8 530.2 1122.0 522.0 1118.4 515.4 C1114.8 508.9 1112.2 504.1 1109.4 498.4 C1106.6 492.7 1102.9 484.2 1101.6 481.3 Z" fill="#3078f8" stroke="#3078f8" stroke-width="0.7" />
<path d="M1089.6 628.7 L1135.2 628.7 L1135.2 628.7 C1135.4 630.6 1134.8 628.0 1136.4 639.9 C1138.0 651.8 1143.1 685.9 1144.9 700.1 C1146.8 714.3 1146.0 711.8 1147.3 725.2 C1148.6 738.5 1151.0 762.1 1153.0 780.3 C1154.9 798.6 1157.1 816.4 1159.3 834.8 C1161.4 853.2 1163.5 872.8 1165.8 890.7 C1168.1 908.7 1172.0 933.8 1173.2 942.4 L1173.2 942.4 L1077.6 942.4 L1077.6 942.4 C1078.3 935.5 1080.5 918.7 1081.7 900.8 C1082.9 882.8 1083.6 866.1 1084.8 834.8 C1085.9 803.5 1087.6 745.5 1088.4 713.0 C1089.2 680.5 1089.4 653.9 1089.6 639.9 C1089.8 625.8 1089.6 630.6 1089.6 628.7 Z" fill="#f0fff4" stroke="#f0fff4" stroke-width="0.7" />
<path d="M1128.1 628.7 C1129.0 627.4 1131.2 623.4 1133.2 620.8 C1135.2 618.2 1137.8 615.2 1140.1 612.9 C1142.4 610.5 1144.6 608.6 1147.0 606.7 C1149.4 604.9 1152.2 603.1 1154.5 601.9 C1156.8 600.8 1158.9 600.3 1160.9 599.9 C1162.9 599.5 1164.7 599.5 1166.5 599.5 C1168.3 599.5 1170.2 599.7 1171.8 600.0 C1173.4 600.3 1174.3 600.4 1176.1 601.2 C1177.9 602.1 1180.6 603.7 1182.6 605.2 C1184.7 606.8 1185.7 606.9 1188.2 610.5 C1190.7 614.1 1195.0 621.6 1197.5 626.8 C1200.0 632.1 1200.8 635.0 1203.4 641.9 C1206.1 648.7 1209.9 658.1 1213.3 668.0 C1216.8 677.8 1221.1 690.4 1224.2 700.8 C1227.3 711.1 1229.7 720.0 1232.1 730.2 C1234.5 740.3 1236.5 749.1 1238.7 761.7 C1240.8 774.2 1243.0 789.2 1245.0 805.4 C1247.0 821.7 1249.0 843.3 1250.6 859.2 C1252.3 875.1 1253.5 886.9 1254.9 900.8 C1256.3 914.6 1258.4 935.5 1259.1 942.4 L1259.1 942.4 L1173.2 942.4 L1173.2 942.4 C1172.0 933.8 1168.1 908.7 1165.8 890.7 C1163.5 872.8 1161.4 853.2 1159.3 834.8 C1157.1 816.4 1154.9 798.6 1153.0 780.3 C1151.0 762.1 1148.6 738.5 1147.3 725.2 C1146.0 711.8 1146.8 714.3 1144.9 700.1 C1143.1 685.9 1138.0 651.8 1136.4 639.9 C1134.8 628.0 1135.4 630.6 1135.2 628.7 L1135.2 628.7 L1128.1 628.7 Z" fill="#5890e8" stroke="#5890e8" stroke-width="0.7" />
<path d="M1188.2 610.5 L1192.9 612.9 L1192.9 612.9 C1194.5 615.5 1199.2 623.1 1202.4 628.8 C1205.6 634.5 1208.5 640.0 1212.1 647.0 C1215.8 654.0 1219.8 662.0 1224.2 671.0 C1228.6 679.9 1234.7 690.7 1238.7 700.8 C1242.6 710.8 1245.2 721.0 1248.0 731.2 C1250.8 741.3 1252.7 749.3 1255.5 761.7 C1258.3 774.1 1262.0 791.2 1264.8 805.4 C1267.6 819.6 1269.9 831.9 1272.2 847.0 C1274.5 862.0 1276.6 879.8 1278.7 895.7 C1280.7 911.6 1283.4 934.6 1284.3 942.4 L1284.3 942.4 L1259.1 942.4 L1259.1 942.4 C1258.4 935.5 1256.3 914.6 1254.9 900.8 C1253.5 886.9 1252.3 875.1 1250.6 859.2 C1249.0 843.3 1247.0 821.7 1245.0 805.4 C1243.0 789.2 1240.8 774.2 1238.7 761.7 C1236.5 749.1 1234.5 740.3 1232.1 730.2 C1229.7 720.0 1227.3 711.1 1224.2 700.8 C1221.1 690.4 1216.8 677.8 1213.3 668.0 C1209.9 658.1 1206.1 648.7 1203.4 641.9 C1200.8 635.0 1200.0 632.1 1197.5 626.8 C1195.0 621.6 1189.7 613.2 1188.2 610.5 Z" fill="#6c30f8" stroke="#6c30f8" stroke-width="0.7" />
<path d="M1192.9 612.9 C1194.5 615.5 1199.2 623.1 1202.4 628.8 C1205.6 634.5 1208.5 640.0 1212.1 647.0 C1215.8 654.0 1219.8 662.0 1224.2 671.0 C1228.6 679.9 1234.7 690.7 1238.7 700.8 C1242.6 710.8 1245.2 721.0 1248.0 731.2 C1250.8 741.3 1252.7 749.3 1255.5 761.7 C1258.3 774.1 1262.0 791.2 1264.8 805.4 C1267.6 819.6 1269.9 831.9 1272.2 847.0 C1274.5 862.0 1276.6 879.8 1278.7 895.7 C1280.7 911.6 1283.4 934.6 1284.3 942.4 L1284.3 942.4 L1351.4 942.4 L1351.4 721.5 L1351.2 721.5 C1349.5 719.7 1345.0 714.3 1341.0 710.4 C1337.1 706.5 1333.3 703.2 1327.5 698.4 C1321.8 693.5 1314.4 687.4 1306.4 681.5 C1298.3 675.6 1287.7 668.3 1279.4 663.0 C1271.2 657.8 1263.7 654.1 1256.9 650.2 C1250.1 646.3 1245.6 643.8 1238.7 639.9 C1231.7 635.9 1222.9 630.8 1215.3 626.3 C1207.7 621.8 1196.7 615.1 1192.9 612.9 Z" fill="#28509c" stroke="#28509c" stroke-width="0.7" />
<path d="M1171.8 598.5 C1173.9 600.0 1181.1 604.9 1184.6 607.3 C1188.2 609.6 1187.8 609.7 1192.9 612.9 C1198.1 616.0 1207.7 621.8 1215.3 626.3 C1222.9 630.8 1231.7 635.9 1238.7 639.9 C1245.6 643.8 1250.1 646.3 1256.9 650.2 C1263.7 654.1 1271.2 657.8 1279.4 663.0 C1287.7 668.3 1298.3 675.6 1306.4 681.5 C1314.4 687.4 1321.8 693.5 1327.5 698.4 C1333.3 703.2 1337.1 706.5 1341.0 710.4 C1345.0 714.3 1349.5 719.7 1351.2 721.5" fill="none" stroke="#fff" stroke-width="3.6" stroke-linecap="round"/>
<path d="M1178.7 422.6 C1183.5 421.2 1199.0 416.3 1207.4 414.1 C1215.8 411.9 1225.5 410.2 1229.2 409.4" fill="none" stroke="#fff" stroke-width="2.6" stroke-linecap="round"/>
<path d="M1229.2 409.4 C1233.6 408.7 1245.1 406.4 1255.5 405.4 C1265.9 404.3 1281.5 403.4 1291.5 403.0 C1301.5 402.7 1307.6 402.7 1315.6 403.6 C1323.6 404.4 1333.7 406.4 1339.6 407.9 C1345.6 409.3 1349.3 411.4 1351.2 412.1" fill="none" stroke="#fff" stroke-width="1.4" stroke-dasharray="2.5 3"/>
<path d="M1063.2 495.7 C1065.1 499.0 1070.8 508.5 1074.8 515.4 C1078.8 522.4 1083.1 529.6 1087.2 537.3 C1091.4 545.0 1095.5 553.5 1099.5 561.6 C1103.5 569.7 1107.8 578.6 1111.3 586.1 C1114.7 593.6 1117.5 599.6 1120.3 606.7 C1123.1 613.9 1126.8 625.1 1128.1 628.7" fill="none" stroke="#fff" stroke-width="1.3" stroke-dasharray="1.6 9"/>
<path d="M1089.6 482.3 C1090.9 485.0 1094.7 492.9 1097.5 498.4 C1100.3 503.9 1102.6 508.6 1106.4 515.4 C1110.2 522.3 1115.5 531.4 1120.3 539.5 C1125.1 547.6 1131.1 558.0 1135.2 564.2 C1139.4 570.4 1141.8 573.0 1145.0 576.6 C1148.3 580.3 1151.6 583.2 1154.5 586.1 C1157.5 588.9 1160.2 591.5 1162.9 593.7 C1165.5 595.9 1169.0 598.6 1170.2 599.5" fill="none" stroke="#fff" stroke-width="1.3" stroke-dasharray="1.6 9"/>
<path d="M1101.6 481.3 C1102.9 484.2 1106.6 492.7 1109.4 498.4 C1112.2 504.1 1114.8 508.9 1118.4 515.4 C1122.0 522.0 1126.8 530.2 1131.2 537.5 C1135.6 544.8 1141.0 553.2 1144.9 559.3 C1148.9 565.4 1151.7 569.7 1154.9 574.1 C1158.1 578.6 1161.5 582.6 1164.1 586.1 C1166.8 589.5 1168.8 592.3 1170.8 594.7 C1172.8 597.1 1175.2 599.7 1176.1 600.7" fill="none" stroke="#fff" stroke-width="1.3" stroke-dasharray="1.6 9"/>
<path d="M1075.2 481.3 C1081.2 476.5 1097.3 461.0 1111.3 452.1 C1125.3 443.2 1147.9 432.9 1159.3 427.7 C1170.7 422.6 1176.3 422.2 1179.7 421.1" fill="none" stroke="#fff" stroke-width="1.3" stroke-dasharray="2 5"/>
<path d="M1128.1 628.7 C1129.0 627.4 1131.2 623.4 1133.2 620.8 C1135.2 618.2 1137.8 615.2 1140.1 612.9 C1142.4 610.5 1144.6 608.6 1147.0 606.7 C1149.4 604.9 1153.3 602.7 1154.5 601.9" fill="none" stroke="#fff" stroke-width="1.6"/>
<path d="M1001.5 501.4 C1005.9 500.6 1020.3 497.8 1027.8 496.8 C1035.4 495.7 1043.8 495.3 1046.9 495.1" fill="none" stroke="#fff" stroke-width="1.5"/>
<path d="M803.1 652.1 C804.2 647.4 807.4 632.8 810.1 624.1 C812.8 615.4 814.9 608.8 819.4 599.7 C823.9 590.6 829.5 579.2 836.9 569.6 C844.3 560.1 854.9 549.5 863.8 542.4 C872.8 535.4 881.7 531.1 890.7 527.5 C899.6 523.8 910.2 522.2 917.6 520.7 C925.0 519.1 932.0 518.5 934.9 518.0" fill="none" stroke="#fff" stroke-width="1.2" opacity="0.8"/>
<circle cx="1149.5" cy="594.2" r="2.6" fill="#1a0830"/><path d="M1119.3 596.7 l2 -4 M1127.2 590.7 l3 -2 M1134.1 593.7 l2 2 M1141.1 589.7 l3 0" stroke="#fff" stroke-width="1.4" fill="none"/>
<polygon transform="translate(970.5 536.1) rotate(90)" points="0,0 -8.4,-3.7800000000000002 -8.4,3.7800000000000002" fill="#fff"/><polygon transform="translate(980.7 676.9) rotate(170)" points="0,0 -8.4,-3.7800000000000002 -8.4,3.7800000000000002" fill="#fff"/><polygon transform="translate(926.3 868.6) rotate(-15)" points="0,0 -8,-3.6 -8,3.6" fill="#fff"/><polygon transform="translate(793.2 825.6) rotate(190)" points="0,0 -6.4,-2.8800000000000003 -6.4,2.8800000000000003" fill="#fff"/>
</g>
<g class="lib" font-size="20.8" stroke-width="0.75" filter="url(#blurt)">
<text x="872" y="453" ><tspan fill="#24287e" stroke="#24287e">Li</tspan><tspan fill="#3a2f8a" stroke="#3a2f8a">q</tspan><tspan fill="#58c48e" stroke="#58c48e">u</tspan><tspan fill="#66bc86" stroke="#66bc86">i</tspan><tspan fill="#c8683c" stroke="#c8683c">d</tspan></text>
<text x="944" y="495" ><tspan fill="#44c096" stroke="#44c096">T</tspan><tspan fill="#50a8a0" stroke="#50a8a0">i</tspan><tspan fill="#e070b0" font-size="14" stroke="#e070b0">2</tspan><tspan fill="#1f807e" stroke="#1f807e">AL</tspan><tspan fill="#3c8ce0" font-size="14" stroke="#3c8ce0">5</tspan></text>
<text x="1021" y="616" ><tspan fill="#5040c8" stroke="#5040c8">T</tspan><tspan fill="#58a0e4" stroke="#58a0e4">i</tspan><tspan fill="#74b0dc" stroke="#74b0dc">A</tspan><tspan fill="#7ca8d4" stroke="#7ca8d4">l</tspan></text>
<text x="1035" y="668.5" ><tspan fill="#8858b0" stroke="#8858b0">T</tspan><tspan fill="#6090d8" stroke="#6090d8">i</tspan><tspan fill="#5898e0" stroke="#5898e0">Al</tspan><tspan fill="#7868c0" font-size="14" stroke="#7868c0">2</tspan></text>
<text x="822" y="689" ><tspan fill="#6080c8" stroke="#6080c8">T</tspan><tspan fill="#5070c0" stroke="#5070c0">i</tspan><tspan fill="#6058b8" stroke="#6058b8">Al</tspan><tspan fill="#7050b0" font-size="14" stroke="#7050b0">3</tspan><tspan fill="#50b0a0" stroke="#50b0a0">(</tspan><tspan fill="#c040c0" stroke="#c040c0">h</tspan><tspan fill="#90c890" stroke="#90c890">)</tspan></text>
<text x="827" y="844" ><tspan fill="#603088" stroke="#603088">F</tspan><tspan fill="#e040a8" stroke="#e040a8">c</tspan><tspan fill="#40e0a0" stroke="#40e0a0">c</tspan></text>
<text x="828" y="888" ><tspan fill="#5040c0" stroke="#5040c0">T</tspan><tspan fill="#d03030" stroke="#d03030">i</tspan><tspan fill="#8040a0" stroke="#8040a0">A</tspan><tspan fill="#a03060" stroke="#a03060">l</tspan><tspan fill="#e05020" font-size="14" stroke="#e05020">3</tspan><tspan fill="#807020" stroke="#807020">(</tspan><tspan fill="#c8d0c8" stroke="#c8d0c8">l</tspan><tspan fill="#c8d0c8" stroke="#c8d0c8">)</tspan></text>
<text x="1240" y="520" opacity="0.8"><tspan fill="#b86878" stroke="#b86878">B</tspan><tspan fill="#4f98fa" stroke="#4f98fa">c</tspan><tspan fill="#5a68f4" stroke="#5a68f4">c</tspan></text>
<text x="1160" y="723" ><tspan fill="#c8b888" stroke="#c8b888">T</tspan><tspan fill="#c8b888" stroke="#c8b888">i</tspan><tspan fill="#50c0b0" font-size="14" stroke="#50c0b0">3</tspan><tspan fill="#c8b888" stroke="#c8b888">A</tspan><tspan fill="#c8b888" stroke="#c8b888">l</tspan></text>
<text x="1281" y="771.5" ><tspan fill="#a050a8" stroke="#a050a8">H</tspan><tspan fill="#e03090" stroke="#e03090">c</tspan><tspan fill="#30c0e0" stroke="#30c0e0">p</tspan></text>
<text x="0" y="0" transform="translate(1020 897) rotate(-90)"><tspan fill="#208878" stroke="#208878">Ti</tspan><tspan fill="#208878" font-size="14" stroke="#208878">3</tspan><tspan fill="#208878" stroke="#208878">Al</tspan><tspan fill="#208878" font-size="14" stroke="#208878">5</tspan></text>
</g>
</g>

<!-- p_d -->
<g class="dj" font-size="36.3" fill="#000">
<rect x="117" y="1093" width="417" height="105" rx="36" ry="36" fill="#d0d1d3" stroke="#000" stroke-width="3.2"/>
<rect x="980" y="1093" width="417" height="105" rx="36" ry="36" fill="#d0d1d3" stroke="#000" stroke-width="3.2"/>
<rect x="499" y="1248" width="516" height="288" rx="30" ry="30" fill="#97989b" stroke="#000" stroke-width="3.2"/>
<rect x="516" y="1263" width="476" height="90" rx="17" ry="17" fill="#d0d1d3" stroke="#000" stroke-width="3.2"/>
<rect x="516" y="1430" width="476" height="91" rx="17" ry="17" fill="#d0d1d3" stroke="#000" stroke-width="3.2"/>
<text x="325" y="1136" text-anchor="middle">machine learning</text>
<text x="325" y="1181" text-anchor="middle">models</text>
<text x="1189" y="1131" text-anchor="middle">high-throughput</text>
<text x="1189" y="1177" text-anchor="middle">experimental search</text>
<text x="755" y="1320" text-anchor="middle">observational data</text>
<text x="755" y="1401" text-anchor="middle">knowledge base</text>
<text x="751" y="1485" text-anchor="middle">physiochemical theories</text>
<text x="656" y="1182" text-anchor="start">predictions</text>
<text x="260" y="1348" text-anchor="start">training sets</text>
<text x="259" y="1508" text-anchor="start">attributes</text>
<text x="1098" y="1348" text-anchor="start">discoveries</text>
<text x="1098" y="1508" text-anchor="start">new knowledge</text>
<g fill="none" stroke="#08738f" stroke-width="8" stroke-linejoin="miter">
<path d="M550 1145.5 H920"/>
<path d="M486 1313.5 H245 V1260"/>
<path d="M486 1473 H168.5 V1260"/>
<path d="M1303 1209 V1313.5 H1060"/>
<path d="M1365.5 1209 V1473 H1060"/>
</g>
<path transform="translate(965 1145.5) rotate(0)" d="M0 0 L-63 -22.5 Q-50 0 -63 22.5 Z" fill="#08738f" stroke="#08738f" stroke-width="1.5" stroke-linejoin="round"/>
<path transform="translate(245 1209) rotate(-90)" d="M0 0 L-63 -22.5 Q-50 0 -63 22.5 Z" fill="#08738f" stroke="#08738f" stroke-width="1.5" stroke-linejoin="round"/>
<path transform="translate(168.5 1209) rotate(-90)" d="M0 0 L-63 -22.5 Q-50 0 -63 22.5 Z" fill="#08738f" stroke="#08738f" stroke-width="1.5" stroke-linejoin="round"/>
<path transform="translate(1020 1313.5) rotate(180)" d="M0 0 L-63 -22.5 Q-50 0 -63 22.5 Z" fill="#08738f" stroke="#08738f" stroke-width="1.5" stroke-linejoin="round"/>
<path transform="translate(1020 1473) rotate(180)" d="M0 0 L-63 -22.5 Q-50 0 -63 22.5 Z" fill="#08738f" stroke="#08738f" stroke-width="1.5" stroke-linejoin="round"/>
</g>

</svg>
</body></html>
